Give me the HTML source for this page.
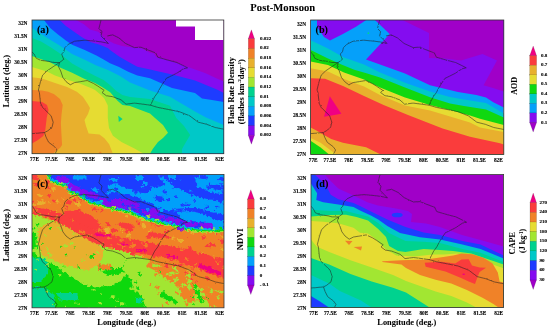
<!DOCTYPE html>
<html><head><meta charset="utf-8"><title>Post-Monsoon</title>
<style>html,body{margin:0;padding:0;background:#fff;width:550px;height:330px;overflow:hidden}svg{display:block}</style>
</head><body>
<svg width="550" height="330" viewBox="0 0 550 330">
<rect width="550" height="330" fill="#fff"/>
<filter id="jag" x="-2%" y="-2%" width="104%" height="104%"><feTurbulence type="fractalNoise" baseFrequency="0.6" numOctaves="1" seed="9" result="n"/><feDisplacementMap in="SourceGraphic" in2="n" scale="2.2" xChannelSelector="R" yChannelSelector="G"/></filter>
<clipPath id="clipA"><rect x="32.0" y="20.0" width="191.8" height="133.7"/></clipPath>
<g clip-path="url(#clipA)" >
<polygon points="32.0,20.0 223.8,20.0 223.8,153.7 32.0,153.7" fill="#a000c8"/>
<polygon points="76.0,20.0 84.0,24.3 90.0,29.5 98.2,31.8 105.3,38.9 114.0,43.6 122.0,46.0 132.5,47.6 142.0,48.5 150.0,52.7 154.0,53.5 156.0,57.0 173.0,61.4 183.7,65.6 205.0,73.0 218.0,78.9 223.8,81.6 223.8,153.7 32.0,153.7 32.0,20.0" fill="#840cf0"/>
<polygon points="59.6,20.0 65.9,25.9 73.7,31.4 81.6,36.9 90.0,42.0 99.0,44.5 108.2,48.2 110.0,50.0 119.1,56.4 128.2,61.8 137.3,66.8 150.0,69.5 172.0,74.5 195.0,80.5 218.0,90.0 223.8,93.0 223.8,153.7 32.0,153.7 32.0,20.0" fill="#1e3cff"/>
<polygon points="44.0,20.0 50.2,28.0 58.0,34.5 62.0,37.5 65.9,40.5 72.1,44.8 84.2,49.7 96.4,55.5 103.6,59.5 110.0,63.2 119.1,67.0 128.2,71.8 137.3,75.5 150.0,78.2 172.0,88.0 195.0,93.1 202.0,98.5 212.0,100.0 223.8,102.0 223.8,153.7 32.0,153.7 32.0,20.0" fill="#05a0fa"/>
<polygon points="32.0,28.0 41.1,34.0 50.2,39.8 59.3,45.3 72.1,54.0 84.2,59.4 96.4,65.5 108.5,70.3 120.0,76.0 130.0,82.5 150.0,90.4 170.0,96.7 195.0,111.4 206.0,117.5 218.0,122.5 223.8,125.0 223.8,153.7 32.0,153.7" fill="#00c8c8"/>
<polygon points="32.0,38.0 41.1,41.6 50.2,47.1 59.3,53.0 72.1,63.5 84.2,70.3 96.4,76.4 103.6,80.0 110.0,85.0 116.3,91.0 122.4,95.0 130.0,97.0 150.0,99.0 170.0,105.8 176.3,118.0 184.0,126.0 190.2,135.0 186.0,142.0 182.0,149.0 182.0,153.7 32.0,153.7" fill="#00d28f"/>
<polygon points="32.0,56.0 50.0,62.3 60.0,67.5 72.1,72.7 84.2,78.8 95.0,83.0 102.0,87.0 110.2,92.3 117.5,100.8 122.4,105.0 130.0,106.0 150.0,113.4 155.0,118.0 163.0,125.0 168.0,132.7 163.0,138.0 158.0,142.0 152.7,149.0 150.0,153.7 32.0,153.7" fill="#a2e632"/>
<polygon points="32.0,67.0 47.0,71.5 55.0,75.5 67.1,79.7 79.2,83.3 91.4,88.2 95.0,90.0 101.0,95.0 104.2,98.3 107.8,105.6 107.8,118.0 109.0,128.0 112.9,135.8 121.4,141.9 133.5,148.0 142.0,152.8 144.0,153.7 32.0,153.7" fill="#e6dc32"/>
<polygon points="32.0,77.3 42.0,78.5 55.0,83.0 67.1,87.0 76.8,91.8 82.9,96.7 87.7,103.9 90.0,108.0 88.0,114.0 84.5,120.0 86.0,126.1 88.6,133.4 99.5,134.6 104.4,138.2 109.2,144.3 112.9,153.7 32.0,153.7" fill="#e8b02d"/>
<polygon points="32.0,90.0 42.1,90.6 48.2,91.8 54.2,94.2 60.0,99.0 62.7,105.0 61.5,114.7 60.9,123.2 61.5,135.3 62.1,145.0 60.0,148.0 56.0,151.0 52.7,153.7 32.0,153.7" fill="#f08228"/>
<polygon points="32.0,100.9 42.1,102.1 47.0,105.0 48.5,110.0 46.7,118.0 45.3,130.0 43.3,136.0 38.0,140.0 32.0,143.5" fill="#fa3c3c"/>
<polygon points="118.3,115.8 122.6,119.0 118.8,121.9" fill="#00d28f"/>
<polygon points="98.0,153.7 100.2,151.5 102.5,153.7" fill="#f08228"/>
<polygon points="176.0,20.0 223.8,20.0 223.8,40.0 195.0,40.0 195.0,26.5 176.0,26.5" fill="#ffffff"/>
</g>
<g clip-path="url(#clipA)"><g fill="none" stroke="#222" stroke-width="0.6" stroke-linejoin="round" opacity="0.9" filter="url(#jag)"><path d="M101.0 20.0 L100.0 24.2 L98.9 28.5 L102.0 31.7 L101.0 35.9 L105.2 40.2 L108.4 43.4"/><path d="M107.4 35.9 L112.7 34.9 L119.0 38.0 L125.4 43.4 L134.5 47.6 L140.9 47.2 L147.2 49.7 L155.7 52.9 L157.8 57.2 L168.5 60.3 L177.0 62.5 L183.3 65.6 L187.6 67.8 L183.3 68.8 L177.0 73.1 L170.6 76.3 L166.3 78.4 L163.2 83.0 L160.0 88.2 L157.8 92.5 L154.7 96.7 L152.5 101.0 L150.4 105.2 L157.8 107.4 L168.5 109.5 L179.1 111.6 L189.7 115.8 L198.2 122.2 L206.7 124.3 L215.2 127.5 L226.0 129.6"/><path d="M150.4 105.2 L143.0 104.2 L134.5 103.1 L126.0 104.2 L121.2 99.9 L112.7 96.7 L106.3 95.7 L102.0 92.5 L104.2 90.4 L97.8 86.1 L93.6 83.5 L87.2 80.5 L80.8 81.6 L74.5 82.6 L70.2 84.8 L66.0 81.6 L62.8 77.3 L60.7 71.0 L58.5 66.7 L59.6 62.5 L63.8 59.3 L62.8 57.2 L61.7 54.0 L63.8 51.8 L64.9 47.6 L68.1 44.4 L74.5 41.2 L85.0 40.2 L95.7 41.2 L102.0 42.0 L108.4 43.4"/><path d="M59.6 62.5 L53.2 62.5 L49.0 61.4 L40.5 60.3 L36.2 58.2 L34.1 54.0 L32.0 52.0"/><path d="M59.6 62.5 L53.2 66.7 L46.9 71.0 L42.6 75.2 L40.5 81.6 L38.4 90.0 L39.4 92.5 L40.5 103.1 L42.6 107.4 L44.7 109.5 L51.1 115.8 L53.2 122.2 L52.0 127.4 L47.5 131.0 L44.5 132.5 L36.2 133.3 L32.0 133.6"/><path d="M44.5 132.5 L46.0 137.0 L48.7 142.3 L54.5 146.6 L57.0 150.0 L55.0 154.0"/></g></g>
<rect x="32.0" y="20.0" width="191.8" height="133.7" fill="none" stroke="#333" stroke-width="0.8"/>
<clipPath id="clipB"><rect x="310.6" y="20.0" width="193.2" height="134.5"/></clipPath>
<g clip-path="url(#clipB)" >
<polygon points="310.6,20.0 503.8,20.0 503.8,154.5 310.6,154.5" fill="#05a0fa"/>
<polygon points="374.9,20.0 389.7,33.9 366.0,59.5 380.0,64.5 405.0,73.5 430.0,85.2 458.0,91.9 476.4,95.0 486.0,97.4 493.3,102.2 503.8,107.5 503.8,20.0" fill="#840cf0"/>
<polygon points="402.5,20.0 429.0,33.0 429.0,58.0 445.0,58.5 461.0,60.5 482.5,54.0 497.0,60.5 483.6,85.3 493.0,88.0 503.8,91.5 503.8,20.0" fill="#a000c8"/>
<polygon points="317.0,20.0 366.2,20.0 356.0,26.7 342.9,34.0 330.0,40.5 324.0,37.0 317.0,27.0" fill="#840cf0"/>
<circle cx="368.4" cy="33.2" r="0.9" fill="#00d28f"/>
<polygon points="310.6,40.3 328.0,48.6 344.0,57.5 364.0,64.4 380.0,72.5 405.0,82.7 430.0,91.5 450.0,97.0 464.0,99.5 486.0,103.0 503.8,113.5 503.8,154.5 310.6,154.5" fill="#00c8c8"/>
<polygon points="310.6,50.1 328.0,58.5 342.0,64.8 354.2,69.7 366.4,73.3 380.0,77.5 405.0,87.5 430.0,97.3 450.0,103.5 464.0,106.0 486.0,109.5 503.8,117.5 503.8,154.5 310.6,154.5" fill="#10d810"/>
<polygon points="310.6,61.5 328.0,65.0 344.0,72.5 364.0,79.5 380.0,87.5 405.0,97.5 430.0,105.0 450.0,110.0 470.0,115.5 480.0,118.7 503.8,125.0 503.8,154.5 310.6,154.5" fill="#e6dc32"/>
<polygon points="310.6,68.3 328.0,71.5 344.0,79.0 364.0,86.4 380.0,95.1 405.0,105.5 430.0,110.5 450.0,116.5 470.0,122.5 480.0,127.5 503.8,132.0 503.8,154.5 310.6,154.5" fill="#e8b02d"/>
<polygon points="310.6,78.2 325.0,78.8 343.0,86.0 364.0,96.0 383.6,105.0 408.0,115.0 442.6,128.4 470.0,136.8 500.0,143.2 503.8,144.5 503.8,154.5 380.7,154.5 366.1,147.2 342.9,142.8 331.2,139.1 322.7,134.3 316.4,130.6 310.6,127.4" fill="#fa3c3c"/>
<polygon points="310.6,138.0 320.6,142.8 331.2,150.8 336.5,154.5 310.6,154.5" fill="#e6dc32"/>
<polygon points="310.6,140.7 320.6,147.6 329.1,154.5 310.6,154.5" fill="#10d810"/>
<polygon points="329.8,96.3 341.4,113.8 324.0,116.7" fill="#f00082"/>
</g>
<g clip-path="url(#clipB)"><g fill="none" stroke="#222" stroke-width="0.6" stroke-linejoin="round" opacity="0.9" filter="url(#jag)"><path d="M379.6 20.0 L378.6 24.2 L377.5 28.5 L380.6 31.7 L379.6 35.9 L383.8 40.2 L387.0 43.4"/><path d="M386.0 35.9 L391.3 34.9 L397.6 38.0 L404.0 43.4 L413.1 47.6 L419.5 47.2 L425.8 49.7 L434.3 52.9 L436.4 57.2 L447.1 60.3 L455.6 62.5 L461.9 65.6 L466.2 67.8 L461.9 68.8 L455.6 73.1 L449.2 76.3 L444.9 78.4 L441.8 83.0 L438.6 88.2 L436.4 92.5 L433.3 96.7 L431.1 101.0 L429.0 105.2 L436.4 107.4 L447.1 109.5 L457.7 111.6 L468.3 115.8 L476.8 122.2 L485.3 124.3 L493.8 127.5 L504.6 129.6"/><path d="M429.0 105.2 L421.6 104.2 L413.1 103.1 L404.6 104.2 L399.8 99.9 L391.3 96.7 L384.9 95.7 L380.6 92.5 L382.8 90.4 L376.4 86.1 L372.2 83.5 L365.8 80.5 L359.4 81.6 L353.1 82.6 L348.8 84.8 L344.6 81.6 L341.4 77.3 L339.3 71.0 L337.1 66.7 L338.2 62.5 L342.4 59.3 L341.4 57.2 L340.3 54.0 L342.4 51.8 L343.5 47.6 L346.7 44.4 L353.1 41.2 L363.6 40.2 L374.3 41.2 L380.6 42.0 L387.0 43.4"/><path d="M338.2 62.5 L331.8 62.5 L327.6 61.4 L319.1 60.3 L314.8 58.2 L312.7 54.0 L310.6 52.0"/><path d="M338.2 62.5 L331.8 66.7 L325.5 71.0 L321.2 75.2 L319.1 81.6 L317.0 90.0 L318.0 92.5 L319.1 103.1 L321.2 107.4 L323.3 109.5 L329.7 115.8 L331.8 122.2 L330.6 127.4 L326.1 131.0 L323.1 132.5 L314.8 133.3 L310.6 133.6"/><path d="M323.1 132.5 L324.6 137.0 L327.3 142.3 L333.1 146.6 L335.6 150.0 L333.6 154.0"/></g></g>
<rect x="310.6" y="20.0" width="193.2" height="134.5" fill="none" stroke="#333" stroke-width="0.8"/>
<clipPath id="clipD"><rect x="311.0" y="174.4" width="192.6" height="133.1"/></clipPath>
<g clip-path="url(#clipD)" >
<polygon points="311.0,174.4 503.6,174.4 503.6,307.5 311.0,307.5" fill="#a000c8"/>
<polygon points="324.7,174.4 330.7,181.0 338.3,188.5 353.5,195.5 368.0,202.5 378.0,205.5 396.0,208.5 408.0,211.0 412.0,214.0 411.0,222.0 426.0,223.5 440.0,227.0 462.0,235.0 480.5,240.0 503.6,246.5 503.6,307.5 311.0,307.5 311.0,174.4" fill="#840cf0"/>
<polygon points="314.8,174.4 321.6,181.0 327.7,188.7 330.7,194.7 338.3,199.3 353.5,203.0 360.0,206.0 374.5,213.3 387.3,219.5 405.5,227.0 423.6,232.5 440.0,235.0 462.4,240.9 480.5,244.5 503.6,255.5 503.6,307.5 311.0,307.5 311.0,174.4" fill="#1e3cff"/>
<ellipse cx="397.2" cy="215" rx="5.5" ry="2.3" fill="#1e3cff"/>
<polygon points="311.0,183.4 317.1,193.2 316.3,200.0 323.2,202.3 338.3,204.6 353.5,207.0 360.0,210.5 370.9,215.6 378.2,219.5 387.3,226.0 400.0,233.0 420.0,237.3 440.0,239.5 462.4,244.5 480.5,249.0 503.6,258.5 503.6,307.5 311.0,307.5" fill="#00c8c8"/>
<polygon points="311.0,209.7 330.0,211.0 346.0,211.0 353.5,213.0 368.0,216.5 378.2,223.0 389.0,233.0 405.5,241.0 423.6,241.8 440.0,243.0 462.4,249.0 480.5,252.7 503.6,262.0 503.6,307.5 311.0,307.5" fill="#00d28f"/>
<polygon points="311.0,216.5 330.7,215.0 346.0,214.8 356.5,217.1 368.0,220.5 378.2,229.0 386.0,237.0 389.1,246.0 398.0,251.0 405.5,252.0 423.6,249.0 440.0,250.0 453.0,251.0 471.5,253.6 503.6,264.5 503.6,307.5 311.0,307.5" fill="#a2e632"/>
<polygon points="311.0,220.9 323.2,221.7 338.3,223.2 353.5,227.7 360.0,232.7 368.0,233.5 374.5,238.2 385.5,249.0 396.4,255.5 414.5,256.4 432.7,254.5 444.2,254.5 456.9,253.6 471.5,257.3 503.6,268.2 503.6,307.5 311.0,307.5" fill="#e6dc32"/>
<polygon points="382.3,261.2 401.4,260.2 425.7,259.5 440.0,257.5 453.2,255.5 461.5,253.5 472.4,254.2 483.3,257.8 492.4,263.3 497.8,272.4 499.6,281.5 503.6,282.4 503.6,307.5 498.5,307.5 493.4,303.9 482.5,297.7 466.9,289.9 451.3,283.6 435.6,279.7 420.0,275.0 406.0,268.0 401.4,264.6 382.3,262.0" fill="#f08228"/>
<polygon points="424.7,262.7 441.4,261.7 455.2,263.5 461.5,259.6 468.7,259.3 472.0,265.5 479.6,267.5 486.0,267.8 479.6,272.0 477.5,277.0 475.0,284.0 468.7,281.5 461.1,278.0 445.4,271.6 425.7,266.7" fill="#fa3c3c"/>
<ellipse cx="463.7" cy="274.3" rx="1.4" ry="0.7" fill="#f00082"/>
<polygon points="345.0,240.8 352.5,241.0 349.0,245.0" fill="#f08228"/>
<polygon points="353.6,247.0 362.0,246.4 361.0,250.6" fill="#f08228"/>
<polygon points="311.0,239.5 316.5,246.4 329.2,252.0 350.5,260.2 371.7,267.6 393.0,275.0 406.0,281.0 420.0,286.0 435.6,291.4 451.3,296.1 466.9,302.4 476.3,307.5 311.0,307.5" fill="#a2e632"/>
<polygon points="311.0,258.0 329.2,264.4 350.5,274.0 371.7,281.4 393.0,287.8 406.0,292.5 417.8,300.1 429.6,307.5 311.0,307.5" fill="#00d28f"/>
<polygon points="311.0,275.0 329.2,283.5 339.8,291.0 361.0,300.5 371.7,307.5 311.0,307.5" fill="#00c8c8"/>
<polygon points="311.0,296.0 320.0,301.5 329.0,307.5 311.0,307.5" fill="#1e3cff"/>
</g>
<g clip-path="url(#clipD)"><g fill="none" stroke="#222" stroke-width="0.6" stroke-linejoin="round" opacity="0.9" filter="url(#jag)"><path d="M380.0 174.4 L379.0 178.6 L377.9 182.9 L381.0 186.1 L380.0 190.3 L384.2 194.6 L387.4 197.8"/><path d="M386.4 190.3 L391.7 189.3 L398.0 192.4 L404.4 197.8 L413.5 202.0 L419.9 201.6 L426.2 204.1 L434.7 207.3 L436.8 211.6 L447.5 214.7 L456.0 216.9 L462.3 220.0 L466.6 222.2 L462.3 223.2 L456.0 227.5 L449.6 230.7 L445.3 232.8 L442.2 237.4 L439.0 242.6 L436.8 246.9 L433.7 251.1 L431.5 255.4 L429.4 259.6 L436.8 261.8 L447.5 263.9 L458.1 266.0 L468.7 270.2 L477.2 276.6 L485.7 278.7 L494.2 281.9 L505.0 284.0"/><path d="M429.4 259.6 L422.0 258.6 L413.5 257.5 L405.0 258.6 L400.2 254.3 L391.7 251.1 L385.3 250.1 L381.0 246.9 L383.2 244.8 L376.8 240.5 L372.6 237.9 L366.2 234.9 L359.8 236.0 L353.5 237.0 L349.2 239.2 L345.0 236.0 L341.8 231.7 L339.7 225.4 L337.5 221.1 L338.6 216.9 L342.8 213.7 L341.8 211.6 L340.7 208.4 L342.8 206.2 L343.9 202.0 L347.1 198.8 L353.5 195.6 L364.0 194.6 L374.7 195.6 L381.0 196.4 L387.4 197.8"/><path d="M338.6 216.9 L332.2 216.9 L328.0 215.8 L319.5 214.7 L315.2 212.6 L313.1 208.4 L311.0 206.4"/><path d="M338.6 216.9 L332.2 221.1 L325.9 225.4 L321.6 229.6 L319.5 236.0 L317.4 244.4 L318.4 246.9 L319.5 257.5 L321.6 261.8 L323.7 263.9 L330.1 270.2 L332.2 276.6 L331.0 281.8 L326.5 285.4 L323.5 286.9 L315.2 287.7 L311.0 288.0"/><path d="M323.5 286.9 L325.0 291.4 L327.7 296.7 L333.5 301.0 L336.0 304.4 L334.0 308.4"/></g></g>
<rect x="311.0" y="174.4" width="192.6" height="133.1" fill="none" stroke="#333" stroke-width="0.8"/>
<clipPath id="clipC"><rect x="32.0" y="174.4" width="192.0" height="133.4"/></clipPath>
<filter id="rough" x="-5%%" y="-5%%" width="110%%" height="110%%"><feTurbulence type="fractalNoise" baseFrequency="0.35" numOctaves="2" seed="4" result="n"/><feDisplacementMap in="SourceGraphic" in2="n" scale="5" xChannelSelector="R" yChannelSelector="G"/></filter>
<g clip-path="url(#clipC)"><g filter="url(#rough)">
<polygon points="28.0,170.4 228.0,170.4 228.0,311.8 28.0,311.8" fill="#a2e632"/>
<polygon points="28.0,170.4 46.0,170.4 48.0,174.4 52.4,179.4 59.2,181.5 67.4,183.5 68.8,189.0 77.0,191.7 83.8,195.8 89.2,199.9 100.0,202.0 113.7,206.3 129.7,209.5 145.8,216.5 157.0,219.5 168.6,222.0 187.0,226.5 203.0,228.0 211.8,228.5 218.6,228.0 228.0,227.5 228.0,292.0 215.0,290.0 200.0,285.0 190.0,280.0 175.0,272.0 162.0,264.0 150.0,260.0 140.0,256.0 130.0,253.0 120.0,250.0 110.0,247.0 104.0,246.0 97.0,243.0 85.0,237.0 75.0,232.0 66.0,227.0 59.0,223.0 53.8,221.4 45.0,218.0 38.0,214.0 28.0,210.0" fill="#f08228"/>
<polygon points="150.0,261.0 172.0,266.0 186.0,274.0 200.0,284.0 215.0,291.0 228.0,294.0 228.0,311.8 214.0,311.8 206.0,300.0 196.0,295.0 186.0,290.0 176.0,286.0 166.0,279.0 156.0,271.0 146.0,266.0" fill="#f08228"/>
<polygon points="97.0,264.0 112.0,265.0 113.0,270.0 99.0,270.0" fill="#f08228"/>
<polygon points="178.0,286.0 190.0,290.0 197.0,300.0 190.0,303.0 182.0,296.0" fill="#f08228"/>
<polygon points="38.0,229.0 45.0,224.0 53.8,221.4 59.0,223.5 66.0,227.5 75.0,232.5 85.0,237.5 97.0,243.5 103.0,250.0 103.0,258.0 97.0,265.0 88.0,270.0 75.0,268.0 62.0,264.0 52.0,259.0 43.0,256.0 39.0,248.0 38.0,238.0" fill="#e8b02d"/>
<polygon points="28.0,248.0 40.0,257.0 55.0,265.6 65.3,273.0 77.5,281.0 88.0,286.0 97.0,286.5 112.0,286.0 121.0,280.0 126.0,275.0 131.0,278.0 133.0,288.0 142.5,297.4 147.0,311.8 28.0,311.8" fill="#10d810"/>
<polygon points="100.0,272.0 112.0,268.0 122.0,268.0 125.0,272.0 112.0,276.0" fill="#10d810"/>
<polygon points="160.0,292.0 170.0,295.0 178.0,302.0 176.0,304.0 165.0,299.0 160.0,297.0" fill="#10d810"/>
<polygon points="193.0,282.0 196.0,283.0 204.0,302.0 201.0,303.5 194.0,290.0" fill="#10d810"/>
<polygon points="28.0,232.0 36.0,233.0 37.0,248.0 28.0,249.0" fill="#10d810"/>
<polygon points="28.0,257.0 45.0,258.0 49.0,265.0 47.0,275.0 40.0,282.0 28.0,282.0" fill="#00d28f"/>
<polygon points="28.0,286.8 45.0,288.0 54.7,295.0 55.0,311.8 28.0,311.8" fill="#00d28f"/>
<polygon points="55.0,293.0 77.5,293.0 77.5,300.0 60.0,300.4" fill="#00d28f"/>
<polygon points="135.0,297.4 142.5,298.0 142.0,303.5 136.0,303.0" fill="#00d28f"/>
<ellipse cx="135.2" cy="214.9" rx="0.9" ry="0.7" transform="rotate(22 135.2 214.9)" fill="#e8b02d"/>
<ellipse cx="42.0" cy="181.4" rx="1.6" ry="1.0" transform="rotate(38 42.0 181.4)" fill="#e8b02d"/>
<ellipse cx="143.4" cy="218.6" rx="3.6" ry="1.6" transform="rotate(0 143.4 218.6)" fill="#e8b02d"/>
<ellipse cx="56.9" cy="184.7" rx="1.4" ry="1.0" transform="rotate(37 56.9 184.7)" fill="#e8b02d"/>
<ellipse cx="39.9" cy="195.4" rx="2.2" ry="1.5" transform="rotate(18 39.9 195.4)" fill="#e8b02d"/>
<ellipse cx="186.9" cy="255.4" rx="1.6" ry="1.0" transform="rotate(25 186.9 255.4)" fill="#e8b02d"/>
<ellipse cx="180.9" cy="240.1" rx="3.1" ry="1.7" transform="rotate(12 180.9 240.1)" fill="#e8b02d"/>
<ellipse cx="144.0" cy="225.9" rx="2.8" ry="1.7" transform="rotate(44 144.0 225.9)" fill="#e8b02d"/>
<ellipse cx="61.6" cy="184.6" rx="1.0" ry="0.6" transform="rotate(35 61.6 184.6)" fill="#e8b02d"/>
<ellipse cx="191.9" cy="275.5" rx="1.5" ry="1.1" transform="rotate(17 191.9 275.5)" fill="#e8b02d"/>
<ellipse cx="63.2" cy="198.6" rx="1.6" ry="0.8" transform="rotate(21 63.2 198.6)" fill="#e8b02d"/>
<ellipse cx="101.9" cy="239.3" rx="3.0" ry="1.8" transform="rotate(31 101.9 239.3)" fill="#e8b02d"/>
<ellipse cx="207.9" cy="265.2" rx="2.7" ry="1.6" transform="rotate(36 207.9 265.2)" fill="#e8b02d"/>
<ellipse cx="40.4" cy="178.6" rx="1.4" ry="0.7" transform="rotate(5 40.4 178.6)" fill="#e8b02d"/>
<ellipse cx="28.0" cy="188.8" rx="1.0" ry="0.8" transform="rotate(15 28.0 188.8)" fill="#e8b02d"/>
<ellipse cx="78.5" cy="212.6" rx="2.1" ry="1.2" transform="rotate(3 78.5 212.6)" fill="#e8b02d"/>
<ellipse cx="121.2" cy="229.2" rx="1.1" ry="0.6" transform="rotate(2 121.2 229.2)" fill="#e8b02d"/>
<ellipse cx="200.7" cy="255.1" rx="1.3" ry="1.0" transform="rotate(15 200.7 255.1)" fill="#e8b02d"/>
<ellipse cx="198.5" cy="268.4" rx="2.4" ry="1.6" transform="rotate(33 198.5 268.4)" fill="#e8b02d"/>
<ellipse cx="33.6" cy="204.4" rx="1.9" ry="0.9" transform="rotate(31 33.6 204.4)" fill="#e8b02d"/>
<ellipse cx="72.1" cy="198.0" rx="1.5" ry="1.0" transform="rotate(7 72.1 198.0)" fill="#e8b02d"/>
<ellipse cx="196.1" cy="228.7" rx="1.9" ry="1.5" transform="rotate(36 196.1 228.7)" fill="#e8b02d"/>
<ellipse cx="210.0" cy="265.5" rx="2.2" ry="1.7" transform="rotate(20 210.0 265.5)" fill="#e8b02d"/>
<ellipse cx="53.4" cy="188.8" rx="2.4" ry="1.9" transform="rotate(37 53.4 188.8)" fill="#e8b02d"/>
<ellipse cx="224.1" cy="250.3" rx="1.5" ry="0.8" transform="rotate(24 224.1 250.3)" fill="#e8b02d"/>
<ellipse cx="222.2" cy="249.4" rx="2.1" ry="1.4" transform="rotate(43 222.2 249.4)" fill="#e8b02d"/>
<ellipse cx="78.4" cy="206.0" rx="1.4" ry="0.9" transform="rotate(26 78.4 206.0)" fill="#e8b02d"/>
<ellipse cx="98.8" cy="226.1" rx="2.2" ry="1.5" transform="rotate(42 98.8 226.1)" fill="#e8b02d"/>
<ellipse cx="128.3" cy="235.1" rx="2.1" ry="1.1" transform="rotate(-2 128.3 235.1)" fill="#e8b02d"/>
<ellipse cx="173.0" cy="238.1" rx="1.8" ry="1.1" transform="rotate(22 173.0 238.1)" fill="#e8b02d"/>
<ellipse cx="77.7" cy="204.1" rx="2.7" ry="1.7" transform="rotate(22 77.7 204.1)" fill="#e8b02d"/>
<ellipse cx="150.5" cy="231.9" rx="2.1" ry="1.2" transform="rotate(31 150.5 231.9)" fill="#e8b02d"/>
<ellipse cx="42.5" cy="199.7" rx="1.3" ry="0.8" transform="rotate(30 42.5 199.7)" fill="#e8b02d"/>
<ellipse cx="107.7" cy="229.7" rx="2.6" ry="1.7" transform="rotate(38 107.7 229.7)" fill="#e8b02d"/>
<ellipse cx="131.1" cy="211.6" rx="1.6" ry="0.7" transform="rotate(12 131.1 211.6)" fill="#e8b02d"/>
<ellipse cx="138.8" cy="224.0" rx="1.1" ry="0.6" transform="rotate(13 138.8 224.0)" fill="#e8b02d"/>
<ellipse cx="49.0" cy="202.7" rx="1.0" ry="0.6" transform="rotate(35 49.0 202.7)" fill="#e8b02d"/>
<ellipse cx="142.1" cy="255.6" rx="1.3" ry="0.7" transform="rotate(0 142.1 255.6)" fill="#e8b02d"/>
<ellipse cx="118.8" cy="211.6" rx="2.0" ry="1.1" transform="rotate(43 118.8 211.6)" fill="#e8b02d"/>
<ellipse cx="49.9" cy="190.0" rx="1.0" ry="0.6" transform="rotate(7 49.9 190.0)" fill="#e8b02d"/>
<ellipse cx="174.6" cy="237.4" rx="1.7" ry="0.7" transform="rotate(20 174.6 237.4)" fill="#e8b02d"/>
<ellipse cx="106.6" cy="232.0" rx="2.3" ry="1.6" transform="rotate(46 106.6 232.0)" fill="#e8b02d"/>
<ellipse cx="169.3" cy="247.7" rx="1.5" ry="0.9" transform="rotate(14 169.3 247.7)" fill="#e8b02d"/>
<ellipse cx="202.1" cy="251.9" rx="1.5" ry="0.9" transform="rotate(9 202.1 251.9)" fill="#e8b02d"/>
<ellipse cx="222.5" cy="236.9" rx="1.4" ry="0.8" transform="rotate(45 222.5 236.9)" fill="#e8b02d"/>
<ellipse cx="122.9" cy="231.5" rx="1.1" ry="0.8" transform="rotate(22 122.9 231.5)" fill="#e8b02d"/>
<ellipse cx="36.3" cy="173.1" rx="1.7" ry="1.0" transform="rotate(8 36.3 173.1)" fill="#e8b02d"/>
<ellipse cx="178.1" cy="250.4" rx="2.4" ry="1.4" transform="rotate(40 178.1 250.4)" fill="#e8b02d"/>
<ellipse cx="172.8" cy="248.6" rx="1.3" ry="0.7" transform="rotate(38 172.8 248.6)" fill="#e8b02d"/>
<ellipse cx="174.8" cy="269.2" rx="1.3" ry="0.9" transform="rotate(23 174.8 269.2)" fill="#e8b02d"/>
<ellipse cx="188.9" cy="270.9" rx="2.4" ry="1.4" transform="rotate(41 188.9 270.9)" fill="#e8b02d"/>
<ellipse cx="54.6" cy="214.3" rx="1.3" ry="0.8" transform="rotate(38 54.6 214.3)" fill="#e8b02d"/>
<ellipse cx="153.2" cy="253.2" rx="2.3" ry="1.3" transform="rotate(-2 153.2 253.2)" fill="#e8b02d"/>
<ellipse cx="128.6" cy="235.5" rx="2.7" ry="1.3" transform="rotate(0 128.6 235.5)" fill="#e8b02d"/>
<ellipse cx="42.9" cy="202.7" rx="2.8" ry="1.8" transform="rotate(7 42.9 202.7)" fill="#e8b02d"/>
<ellipse cx="126.8" cy="216.9" rx="2.3" ry="1.2" transform="rotate(31 126.8 216.9)" fill="#e8b02d"/>
<ellipse cx="57.5" cy="201.3" rx="2.7" ry="1.2" transform="rotate(12 57.5 201.3)" fill="#e8b02d"/>
<ellipse cx="40.1" cy="203.1" rx="2.6" ry="1.3" transform="rotate(31 40.1 203.1)" fill="#e8b02d"/>
<ellipse cx="131.3" cy="226.9" rx="2.4" ry="1.0" transform="rotate(2 131.3 226.9)" fill="#e8b02d"/>
<ellipse cx="223.6" cy="284.2" rx="1.2" ry="0.7" transform="rotate(19 223.6 284.2)" fill="#e8b02d"/>
<ellipse cx="192.0" cy="232.3" rx="2.5" ry="1.9" transform="rotate(32 192.0 232.3)" fill="#e8b02d"/>
<ellipse cx="56.1" cy="212.2" rx="1.3" ry="1.1" transform="rotate(39 56.1 212.2)" fill="#e8b02d"/>
<ellipse cx="213.3" cy="257.1" rx="2.7" ry="1.6" transform="rotate(11 213.3 257.1)" fill="#e8b02d"/>
<ellipse cx="227.8" cy="242.0" rx="1.6" ry="0.8" transform="rotate(18 227.8 242.0)" fill="#e8b02d"/>
<ellipse cx="77.9" cy="202.7" rx="2.0" ry="1.4" transform="rotate(6 77.9 202.7)" fill="#e8b02d"/>
<ellipse cx="204.9" cy="269.1" rx="2.8" ry="1.4" transform="rotate(42 204.9 269.1)" fill="#e8b02d"/>
<ellipse cx="174.5" cy="225.2" rx="2.3" ry="1.2" transform="rotate(29 174.5 225.2)" fill="#e8b02d"/>
<ellipse cx="122.4" cy="212.2" rx="2.0" ry="0.9" transform="rotate(33 122.4 212.2)" fill="#e8b02d"/>
<ellipse cx="139.5" cy="218.4" rx="1.2" ry="0.9" transform="rotate(5 139.5 218.4)" fill="#e8b02d"/>
<ellipse cx="75.8" cy="201.8" rx="2.5" ry="1.2" transform="rotate(41 75.8 201.8)" fill="#e8b02d"/>
<ellipse cx="110.8" cy="234.1" rx="1.5" ry="1.0" transform="rotate(13 110.8 234.1)" fill="#fa3c3c"/>
<ellipse cx="128.7" cy="247.0" rx="2.5" ry="1.5" transform="rotate(7 128.7 247.0)" fill="#fa3c3c"/>
<ellipse cx="108.0" cy="224.6" rx="3.5" ry="1.4" transform="rotate(39 108.0 224.6)" fill="#fa3c3c"/>
<ellipse cx="193.1" cy="274.4" rx="2.5" ry="1.5" transform="rotate(9 193.1 274.4)" fill="#fa3c3c"/>
<ellipse cx="132.5" cy="253.3" rx="3.2" ry="1.9" transform="rotate(33 132.5 253.3)" fill="#fa3c3c"/>
<ellipse cx="119.5" cy="237.5" rx="1.0" ry="0.8" transform="rotate(36 119.5 237.5)" fill="#fa3c3c"/>
<ellipse cx="53.6" cy="201.0" rx="1.9" ry="1.1" transform="rotate(31 53.6 201.0)" fill="#fa3c3c"/>
<ellipse cx="132.9" cy="241.3" rx="1.9" ry="0.9" transform="rotate(8 132.9 241.3)" fill="#fa3c3c"/>
<ellipse cx="88.3" cy="226.4" rx="3.6" ry="1.7" transform="rotate(29 88.3 226.4)" fill="#fa3c3c"/>
<ellipse cx="75.0" cy="200.4" rx="2.8" ry="1.4" transform="rotate(32 75.0 200.4)" fill="#fa3c3c"/>
<ellipse cx="95.6" cy="221.5" rx="2.8" ry="1.6" transform="rotate(6 95.6 221.5)" fill="#fa3c3c"/>
<ellipse cx="72.7" cy="221.1" rx="2.0" ry="1.3" transform="rotate(44 72.7 221.1)" fill="#fa3c3c"/>
<ellipse cx="207.6" cy="277.8" rx="3.1" ry="1.4" transform="rotate(46 207.6 277.8)" fill="#fa3c3c"/>
<ellipse cx="102.8" cy="210.7" rx="1.3" ry="0.8" transform="rotate(-2 102.8 210.7)" fill="#fa3c3c"/>
<ellipse cx="66.6" cy="214.7" rx="2.8" ry="1.9" transform="rotate(-1 66.6 214.7)" fill="#fa3c3c"/>
<ellipse cx="35.0" cy="178.0" rx="3.3" ry="2.0" transform="rotate(9 35.0 178.0)" fill="#fa3c3c"/>
<ellipse cx="95.8" cy="203.5" rx="2.7" ry="1.9" transform="rotate(27 95.8 203.5)" fill="#fa3c3c"/>
<ellipse cx="91.3" cy="203.9" rx="1.2" ry="0.6" transform="rotate(34 91.3 203.9)" fill="#fa3c3c"/>
<ellipse cx="74.8" cy="228.2" rx="2.9" ry="1.6" transform="rotate(44 74.8 228.2)" fill="#fa3c3c"/>
<ellipse cx="114.0" cy="230.4" rx="3.4" ry="1.9" transform="rotate(6 114.0 230.4)" fill="#fa3c3c"/>
<ellipse cx="192.6" cy="264.4" rx="2.1" ry="1.3" transform="rotate(13 192.6 264.4)" fill="#fa3c3c"/>
<ellipse cx="170.0" cy="224.8" rx="1.6" ry="0.9" transform="rotate(17 170.0 224.8)" fill="#fa3c3c"/>
<ellipse cx="141.4" cy="215.8" rx="2.3" ry="1.3" transform="rotate(6 141.4 215.8)" fill="#fa3c3c"/>
<ellipse cx="189.7" cy="249.8" rx="3.1" ry="2.0" transform="rotate(2 189.7 249.8)" fill="#fa3c3c"/>
<ellipse cx="196.1" cy="281.6" rx="0.9" ry="0.6" transform="rotate(11 196.1 281.6)" fill="#fa3c3c"/>
<ellipse cx="222.6" cy="241.3" rx="3.5" ry="1.7" transform="rotate(15 222.6 241.3)" fill="#fa3c3c"/>
<ellipse cx="147.2" cy="245.8" rx="1.2" ry="0.8" transform="rotate(15 147.2 245.8)" fill="#fa3c3c"/>
<ellipse cx="30.3" cy="210.2" rx="2.2" ry="1.2" transform="rotate(6 30.3 210.2)" fill="#fa3c3c"/>
<ellipse cx="187.1" cy="237.0" rx="1.1" ry="0.7" transform="rotate(2 187.1 237.0)" fill="#fa3c3c"/>
<ellipse cx="90.5" cy="239.3" rx="2.1" ry="1.2" transform="rotate(17 90.5 239.3)" fill="#fa3c3c"/>
<ellipse cx="102.2" cy="231.7" rx="1.4" ry="0.9" transform="rotate(11 102.2 231.7)" fill="#fa3c3c"/>
<ellipse cx="67.5" cy="185.8" rx="3.0" ry="1.4" transform="rotate(45 67.5 185.8)" fill="#fa3c3c"/>
<ellipse cx="208.8" cy="245.8" rx="3.1" ry="1.4" transform="rotate(5 208.8 245.8)" fill="#fa3c3c"/>
<ellipse cx="71.6" cy="219.0" rx="1.7" ry="1.1" transform="rotate(16 71.6 219.0)" fill="#fa3c3c"/>
<ellipse cx="147.9" cy="237.3" rx="2.3" ry="1.4" transform="rotate(12 147.9 237.3)" fill="#fa3c3c"/>
<ellipse cx="117.4" cy="223.7" rx="1.1" ry="0.6" transform="rotate(27 117.4 223.7)" fill="#fa3c3c"/>
<ellipse cx="180.7" cy="265.2" rx="2.0" ry="1.0" transform="rotate(5 180.7 265.2)" fill="#fa3c3c"/>
<ellipse cx="174.7" cy="265.0" rx="2.1" ry="1.2" transform="rotate(0 174.7 265.0)" fill="#fa3c3c"/>
<ellipse cx="174.4" cy="269.5" rx="1.4" ry="1.0" transform="rotate(46 174.4 269.5)" fill="#fa3c3c"/>
<ellipse cx="41.1" cy="213.1" rx="3.1" ry="1.4" transform="rotate(4 41.1 213.1)" fill="#fa3c3c"/>
<ellipse cx="69.7" cy="202.4" rx="1.6" ry="1.1" transform="rotate(12 69.7 202.4)" fill="#fa3c3c"/>
<ellipse cx="202.6" cy="237.9" rx="1.8" ry="1.6" transform="rotate(41 202.6 237.9)" fill="#fa3c3c"/>
<ellipse cx="226.1" cy="240.6" rx="1.7" ry="0.9" transform="rotate(35 226.1 240.6)" fill="#fa3c3c"/>
<ellipse cx="145.2" cy="251.1" rx="1.3" ry="0.8" transform="rotate(-2 145.2 251.1)" fill="#fa3c3c"/>
<ellipse cx="151.2" cy="223.0" rx="1.7" ry="1.1" transform="rotate(41 151.2 223.0)" fill="#fa3c3c"/>
<ellipse cx="49.3" cy="213.8" rx="1.6" ry="0.8" transform="rotate(26 49.3 213.8)" fill="#fa3c3c"/>
<ellipse cx="152.8" cy="228.1" rx="1.2" ry="0.7" transform="rotate(43 152.8 228.1)" fill="#fa3c3c"/>
<ellipse cx="202.3" cy="265.5" rx="1.5" ry="1.1" transform="rotate(10 202.3 265.5)" fill="#fa3c3c"/>
<ellipse cx="157.1" cy="224.4" rx="2.6" ry="2.0" transform="rotate(33 157.1 224.4)" fill="#fa3c3c"/>
<ellipse cx="129.4" cy="248.4" rx="2.5" ry="1.5" transform="rotate(5 129.4 248.4)" fill="#fa3c3c"/>
<ellipse cx="184.6" cy="257.4" rx="1.2" ry="0.6" transform="rotate(39 184.6 257.4)" fill="#fa3c3c"/>
<ellipse cx="176.4" cy="225.4" rx="1.3" ry="0.7" transform="rotate(2 176.4 225.4)" fill="#fa3c3c"/>
<ellipse cx="138.8" cy="223.4" rx="2.4" ry="1.6" transform="rotate(23 138.8 223.4)" fill="#fa3c3c"/>
<ellipse cx="80.1" cy="199.1" rx="2.9" ry="1.4" transform="rotate(44 80.1 199.1)" fill="#fa3c3c"/>
<ellipse cx="154.1" cy="254.6" rx="2.4" ry="1.6" transform="rotate(45 154.1 254.6)" fill="#fa3c3c"/>
<ellipse cx="33.7" cy="175.5" rx="2.7" ry="1.6" transform="rotate(28 33.7 175.5)" fill="#fa3c3c"/>
<ellipse cx="191.9" cy="278.8" rx="1.4" ry="0.8" transform="rotate(40 191.9 278.8)" fill="#fa3c3c"/>
<ellipse cx="49.4" cy="195.4" rx="1.5" ry="0.8" transform="rotate(-1 49.4 195.4)" fill="#fa3c3c"/>
<ellipse cx="48.0" cy="182.3" rx="2.4" ry="1.5" transform="rotate(7 48.0 182.3)" fill="#fa3c3c"/>
<ellipse cx="32.2" cy="201.6" rx="1.5" ry="0.9" transform="rotate(32 32.2 201.6)" fill="#fa3c3c"/>
<ellipse cx="220.8" cy="231.7" rx="2.2" ry="1.6" transform="rotate(27 220.8 231.7)" fill="#fa3c3c"/>
<ellipse cx="28.3" cy="195.0" rx="2.0" ry="1.5" transform="rotate(45 28.3 195.0)" fill="#fa3c3c"/>
<ellipse cx="167.9" cy="231.0" rx="1.0" ry="0.8" transform="rotate(28 167.9 231.0)" fill="#fa3c3c"/>
<ellipse cx="167.4" cy="266.1" rx="2.2" ry="1.3" transform="rotate(14 167.4 266.1)" fill="#fa3c3c"/>
<ellipse cx="69.2" cy="202.4" rx="2.8" ry="1.9" transform="rotate(22 69.2 202.4)" fill="#fa3c3c"/>
<ellipse cx="74.7" cy="226.4" rx="2.4" ry="1.3" transform="rotate(34 74.7 226.4)" fill="#fa3c3c"/>
<ellipse cx="97.7" cy="210.1" rx="1.5" ry="0.9" transform="rotate(39 97.7 210.1)" fill="#fa3c3c"/>
<ellipse cx="61.9" cy="223.8" rx="2.2" ry="1.5" transform="rotate(25 61.9 223.8)" fill="#fa3c3c"/>
<ellipse cx="66.3" cy="207.1" rx="2.1" ry="1.2" transform="rotate(39 66.3 207.1)" fill="#fa3c3c"/>
<ellipse cx="77.5" cy="210.1" rx="2.0" ry="1.1" transform="rotate(5 77.5 210.1)" fill="#fa3c3c"/>
<ellipse cx="223.0" cy="259.0" rx="1.0" ry="0.7" transform="rotate(45 223.0 259.0)" fill="#fa3c3c"/>
<ellipse cx="224.8" cy="267.1" rx="2.2" ry="1.6" transform="rotate(18 224.8 267.1)" fill="#fa3c3c"/>
<ellipse cx="49.4" cy="195.5" rx="1.8" ry="1.2" transform="rotate(-1 49.4 195.5)" fill="#fa3c3c"/>
<ellipse cx="166.7" cy="231.3" rx="2.0" ry="1.4" transform="rotate(20 166.7 231.3)" fill="#fa3c3c"/>
<ellipse cx="182.8" cy="255.5" rx="3.0" ry="1.6" transform="rotate(30 182.8 255.5)" fill="#fa3c3c"/>
<ellipse cx="184.5" cy="257.1" rx="2.3" ry="1.3" transform="rotate(9 184.5 257.1)" fill="#fa3c3c"/>
<ellipse cx="152.3" cy="220.2" rx="2.1" ry="1.5" transform="rotate(43 152.3 220.2)" fill="#fa3c3c"/>
<ellipse cx="216.1" cy="233.5" rx="1.3" ry="0.8" transform="rotate(25 216.1 233.5)" fill="#fa3c3c"/>
<ellipse cx="130.4" cy="248.1" rx="2.6" ry="1.9" transform="rotate(23 130.4 248.1)" fill="#fa3c3c"/>
<ellipse cx="82.9" cy="219.0" rx="1.0" ry="0.7" transform="rotate(17 82.9 219.0)" fill="#fa3c3c"/>
<ellipse cx="98.4" cy="202.6" rx="1.8" ry="0.9" transform="rotate(34 98.4 202.6)" fill="#fa3c3c"/>
<ellipse cx="189.9" cy="247.5" rx="1.8" ry="1.4" transform="rotate(25 189.9 247.5)" fill="#fa3c3c"/>
<ellipse cx="191.7" cy="269.6" rx="2.1" ry="1.0" transform="rotate(11 191.7 269.6)" fill="#fa3c3c"/>
<ellipse cx="84.2" cy="200.2" rx="1.6" ry="1.0" transform="rotate(20 84.2 200.2)" fill="#fa3c3c"/>
<ellipse cx="213.7" cy="274.3" rx="1.4" ry="0.7" transform="rotate(38 213.7 274.3)" fill="#fa3c3c"/>
<ellipse cx="48.3" cy="187.8" rx="1.4" ry="0.8" transform="rotate(35 48.3 187.8)" fill="#fa3c3c"/>
<ellipse cx="208.8" cy="266.7" rx="1.5" ry="0.9" transform="rotate(41 208.8 266.7)" fill="#fa3c3c"/>
<ellipse cx="185.6" cy="272.4" rx="1.5" ry="0.9" transform="rotate(31 185.6 272.4)" fill="#fa3c3c"/>
<ellipse cx="126.3" cy="231.0" rx="1.7" ry="1.4" transform="rotate(40 126.3 231.0)" fill="#fa3c3c"/>
<ellipse cx="121.6" cy="238.8" rx="2.3" ry="1.4" transform="rotate(39 121.6 238.8)" fill="#fa3c3c"/>
<ellipse cx="155.4" cy="247.8" rx="1.2" ry="0.7" transform="rotate(27 155.4 247.8)" fill="#fa3c3c"/>
<ellipse cx="130.1" cy="229.3" rx="3.2" ry="1.8" transform="rotate(-1 130.1 229.3)" fill="#fa3c3c"/>
<ellipse cx="101.2" cy="228.1" rx="1.8" ry="1.2" transform="rotate(35 101.2 228.1)" fill="#fa3c3c"/>
<ellipse cx="112.5" cy="237.8" rx="3.2" ry="1.5" transform="rotate(11 112.5 237.8)" fill="#fa3c3c"/>
<ellipse cx="94.2" cy="209.0" rx="1.8" ry="1.1" transform="rotate(26 94.2 209.0)" fill="#fa3c3c"/>
<ellipse cx="205.1" cy="236.7" rx="0.9" ry="0.6" transform="rotate(12 205.1 236.7)" fill="#fa3c3c"/>
<ellipse cx="212.3" cy="244.4" rx="2.9" ry="1.5" transform="rotate(36 212.3 244.4)" fill="#fa3c3c"/>
<ellipse cx="151.3" cy="246.6" rx="2.7" ry="1.3" transform="rotate(26 151.3 246.6)" fill="#fa3c3c"/>
<ellipse cx="161.4" cy="226.1" rx="2.2" ry="1.2" transform="rotate(2 161.4 226.1)" fill="#fa3c3c"/>
<ellipse cx="192.5" cy="266.0" rx="2.0" ry="1.2" transform="rotate(9 192.5 266.0)" fill="#fa3c3c"/>
<ellipse cx="91.7" cy="222.8" rx="1.9" ry="1.4" transform="rotate(43 91.7 222.8)" fill="#fa3c3c"/>
<ellipse cx="35.9" cy="184.9" rx="3.3" ry="1.5" transform="rotate(25 35.9 184.9)" fill="#fa3c3c"/>
<ellipse cx="224.2" cy="228.2" rx="2.0" ry="1.0" transform="rotate(2 224.2 228.2)" fill="#fa3c3c"/>
<ellipse cx="153.7" cy="256.6" rx="1.8" ry="1.4" transform="rotate(43 153.7 256.6)" fill="#fa3c3c"/>
<ellipse cx="101.5" cy="240.3" rx="1.6" ry="1.3" transform="rotate(30 101.5 240.3)" fill="#fa3c3c"/>
<ellipse cx="153.9" cy="221.2" rx="2.2" ry="1.2" transform="rotate(36 153.9 221.2)" fill="#fa3c3c"/>
<ellipse cx="223.5" cy="271.5" rx="2.2" ry="1.5" transform="rotate(12 223.5 271.5)" fill="#fa3c3c"/>
<ellipse cx="28.3" cy="202.4" rx="2.2" ry="1.3" transform="rotate(26 28.3 202.4)" fill="#fa3c3c"/>
<ellipse cx="190.4" cy="275.9" rx="2.6" ry="1.4" transform="rotate(10 190.4 275.9)" fill="#fa3c3c"/>
<ellipse cx="149.4" cy="252.8" rx="1.8" ry="1.3" transform="rotate(7 149.4 252.8)" fill="#fa3c3c"/>
<polygon points="64.0,211.0 78.0,210.0 92.0,216.0 100.0,224.0 98.0,230.0 88.0,229.0 76.0,224.0 66.0,218.0" fill="#fa3c3c"/>
<polygon points="120.0,222.0 132.0,224.0 136.0,228.0 126.0,229.0 118.0,226.0" fill="#fa3c3c"/>
<polygon points="150.0,232.0 166.0,234.0 172.0,238.0 158.0,239.0 148.0,236.0" fill="#fa3c3c"/>
<polygon points="33.0,207.0 45.0,209.0 60.0,213.0 75.0,220.0 90.0,228.0 98.0,231.0 110.6,235.0 124.2,238.0 137.9,240.5 151.5,243.0 162.0,245.0 187.0,249.0 205.0,254.0 228.0,260.0 228.0,280.0 210.0,274.0 195.0,268.0 180.0,263.0 162.0,257.0 151.5,255.5 137.9,253.0 124.2,251.0 110.6,248.0 97.0,244.0 85.0,238.0 72.0,230.0 60.0,223.0 48.0,218.0 33.0,215.0" fill="#fa3c3c"/>
<ellipse cx="125.9" cy="250.0" rx="1.0" ry="0.8" transform="rotate(6 125.9 250.0)" fill="#f08228"/>
<ellipse cx="111.5" cy="244.8" rx="1.4" ry="0.6" transform="rotate(0 111.5 244.8)" fill="#f08228"/>
<ellipse cx="217.6" cy="263.0" rx="2.0" ry="1.1" transform="rotate(45 217.6 263.0)" fill="#f08228"/>
<ellipse cx="72.2" cy="220.2" rx="1.1" ry="0.7" transform="rotate(0 72.2 220.2)" fill="#f08228"/>
<ellipse cx="82.9" cy="232.7" rx="2.8" ry="1.2" transform="rotate(42 82.9 232.7)" fill="#f08228"/>
<ellipse cx="186.3" cy="258.8" rx="1.6" ry="1.0" transform="rotate(46 186.3 258.8)" fill="#f08228"/>
<ellipse cx="197.2" cy="252.9" rx="1.9" ry="1.0" transform="rotate(13 197.2 252.9)" fill="#f08228"/>
<ellipse cx="172.2" cy="247.4" rx="1.0" ry="0.6" transform="rotate(40 172.2 247.4)" fill="#f08228"/>
<ellipse cx="227.6" cy="274.5" rx="1.3" ry="0.5" transform="rotate(11 227.6 274.5)" fill="#f08228"/>
<ellipse cx="48.5" cy="213.4" rx="1.7" ry="1.0" transform="rotate(21 48.5 213.4)" fill="#f08228"/>
<ellipse cx="119.9" cy="244.6" rx="1.3" ry="0.7" transform="rotate(32 119.9 244.6)" fill="#f08228"/>
<ellipse cx="133.1" cy="245.7" rx="2.2" ry="0.9" transform="rotate(-1 133.1 245.7)" fill="#f08228"/>
<ellipse cx="38.9" cy="214.0" rx="1.6" ry="1.3" transform="rotate(6 38.9 214.0)" fill="#f08228"/>
<ellipse cx="145.4" cy="245.2" rx="2.5" ry="1.3" transform="rotate(2 145.4 245.2)" fill="#f08228"/>
<ellipse cx="41.8" cy="216.0" rx="1.6" ry="0.9" transform="rotate(22 41.8 216.0)" fill="#f08228"/>
<ellipse cx="108.8" cy="237.7" rx="2.2" ry="1.6" transform="rotate(23 108.8 237.7)" fill="#f08228"/>
<ellipse cx="79.9" cy="231.5" rx="1.9" ry="1.1" transform="rotate(46 79.9 231.5)" fill="#f08228"/>
<ellipse cx="219.8" cy="275.2" rx="1.4" ry="0.7" transform="rotate(18 219.8 275.2)" fill="#f08228"/>
<ellipse cx="117.4" cy="243.8" rx="1.2" ry="0.6" transform="rotate(3 117.4 243.8)" fill="#f08228"/>
<ellipse cx="57.2" cy="216.6" rx="1.3" ry="0.7" transform="rotate(17 57.2 216.6)" fill="#f08228"/>
<ellipse cx="122.9" cy="247.0" rx="1.8" ry="1.0" transform="rotate(20 122.9 247.0)" fill="#f08228"/>
<ellipse cx="141.5" cy="242.9" rx="1.3" ry="0.9" transform="rotate(46 141.5 242.9)" fill="#f08228"/>
<ellipse cx="220.1" cy="260.9" rx="1.1" ry="0.7" transform="rotate(13 220.1 260.9)" fill="#f08228"/>
<ellipse cx="177.1" cy="261.3" rx="2.5" ry="1.4" transform="rotate(20 177.1 261.3)" fill="#f08228"/>
<ellipse cx="182.3" cy="249.8" rx="1.8" ry="1.0" transform="rotate(45 182.3 249.8)" fill="#f08228"/>
<ellipse cx="121.2" cy="240.4" rx="2.0" ry="1.3" transform="rotate(11 121.2 240.4)" fill="#f08228"/>
<ellipse cx="130.4" cy="239.4" rx="1.0" ry="0.7" transform="rotate(12 130.4 239.4)" fill="#f08228"/>
<ellipse cx="197.5" cy="268.2" rx="2.4" ry="1.7" transform="rotate(7 197.5 268.2)" fill="#f08228"/>
<ellipse cx="35.1" cy="210.5" rx="2.2" ry="1.2" transform="rotate(21 35.1 210.5)" fill="#f08228"/>
<ellipse cx="133.9" cy="244.8" rx="1.9" ry="1.2" transform="rotate(16 133.9 244.8)" fill="#f08228"/>
<ellipse cx="111.2" cy="248.0" rx="2.3" ry="1.1" transform="rotate(40 111.2 248.0)" fill="#f08228"/>
<ellipse cx="223.8" cy="267.3" rx="2.1" ry="1.1" transform="rotate(2 223.8 267.3)" fill="#f08228"/>
<ellipse cx="132.8" cy="243.9" rx="1.3" ry="0.7" transform="rotate(6 132.8 243.9)" fill="#f08228"/>
<ellipse cx="130.1" cy="247.4" rx="1.4" ry="0.9" transform="rotate(29 130.1 247.4)" fill="#f08228"/>
<ellipse cx="56.7" cy="218.4" rx="1.8" ry="1.1" transform="rotate(2 56.7 218.4)" fill="#f08228"/>
<ellipse cx="66.0" cy="226.5" rx="1.1" ry="0.6" transform="rotate(42 66.0 226.5)" fill="#f08228"/>
<ellipse cx="214.5" cy="269.4" rx="1.7" ry="0.8" transform="rotate(41 214.5 269.4)" fill="#f08228"/>
<ellipse cx="70.3" cy="227.7" rx="1.4" ry="0.7" transform="rotate(-1 70.3 227.7)" fill="#f08228"/>
<ellipse cx="133.0" cy="246.6" rx="1.3" ry="0.8" transform="rotate(35 133.0 246.6)" fill="#f08228"/>
<ellipse cx="103.5" cy="243.5" rx="1.3" ry="0.7" transform="rotate(0 103.5 243.5)" fill="#f08228"/>
<ellipse cx="88.1" cy="236.4" rx="2.9" ry="1.6" transform="rotate(35 88.1 236.4)" fill="#f08228"/>
<ellipse cx="176.1" cy="259.0" rx="0.8" ry="0.5" transform="rotate(-1 176.1 259.0)" fill="#f08228"/>
<ellipse cx="92.1" cy="234.8" rx="1.0" ry="0.5" transform="rotate(12 92.1 234.8)" fill="#f08228"/>
<ellipse cx="195.7" cy="263.7" rx="1.6" ry="0.8" transform="rotate(0 195.7 263.7)" fill="#f08228"/>
<ellipse cx="214.4" cy="257.5" rx="2.3" ry="1.2" transform="rotate(38 214.4 257.5)" fill="#f08228"/>
<polygon points="94.0,233.0 110.0,234.5 111.0,236.5 95.0,236.0" fill="#f00082"/>
<polygon points="121.5,243.2 129.7,244.0 129.7,245.5 121.5,245.0" fill="#f00082"/>
<polygon points="135.0,248.7 146.0,250.0 146.0,251.6 135.0,250.5" fill="#f00082"/>
<polygon points="198.0,264.0 212.0,268.0 221.0,272.0 221.0,275.5 210.0,272.0 198.0,267.0" fill="#f00082"/>
<polygon points="165.0,254.0 178.0,257.0 178.0,259.0 165.0,256.0" fill="#f00082"/>
<ellipse cx="65.8" cy="246.3" rx="2.5" ry="1.1" transform="rotate(3 65.8 246.3)" fill="#a2e632"/>
<ellipse cx="83.7" cy="260.6" rx="1.7" ry="0.8" transform="rotate(24 83.7 260.6)" fill="#a2e632"/>
<ellipse cx="73.4" cy="233.5" rx="1.1" ry="0.6" transform="rotate(14 73.4 233.5)" fill="#a2e632"/>
<ellipse cx="58.2" cy="228.0" rx="1.7" ry="1.0" transform="rotate(30 58.2 228.0)" fill="#a2e632"/>
<ellipse cx="71.5" cy="243.0" rx="2.0" ry="1.5" transform="rotate(14 71.5 243.0)" fill="#a2e632"/>
<ellipse cx="47.2" cy="248.8" rx="1.5" ry="0.9" transform="rotate(37 47.2 248.8)" fill="#a2e632"/>
<ellipse cx="49.0" cy="253.8" rx="2.0" ry="1.2" transform="rotate(20 49.0 253.8)" fill="#a2e632"/>
<ellipse cx="45.4" cy="235.5" rx="1.2" ry="0.8" transform="rotate(7 45.4 235.5)" fill="#a2e632"/>
<ellipse cx="50.8" cy="255.5" rx="1.5" ry="0.9" transform="rotate(2 50.8 255.5)" fill="#a2e632"/>
<ellipse cx="61.6" cy="229.6" rx="1.4" ry="0.7" transform="rotate(-2 61.6 229.6)" fill="#a2e632"/>
<ellipse cx="101.7" cy="248.8" rx="1.1" ry="0.6" transform="rotate(21 101.7 248.8)" fill="#a2e632"/>
<ellipse cx="97.8" cy="252.7" rx="2.0" ry="1.0" transform="rotate(43 97.8 252.7)" fill="#a2e632"/>
<ellipse cx="193.8" cy="304.3" rx="1.2" ry="0.6" transform="rotate(36 193.8 304.3)" fill="#10d810"/>
<ellipse cx="100.2" cy="266.1" rx="1.1" ry="0.6" transform="rotate(38 100.2 266.1)" fill="#10d810"/>
<ellipse cx="139.1" cy="274.0" rx="2.2" ry="1.3" transform="rotate(32 139.1 274.0)" fill="#10d810"/>
<ellipse cx="124.9" cy="260.9" rx="1.0" ry="0.5" transform="rotate(11 124.9 260.9)" fill="#10d810"/>
<ellipse cx="192.8" cy="297.1" rx="1.6" ry="1.1" transform="rotate(18 192.8 297.1)" fill="#10d810"/>
<ellipse cx="94.4" cy="254.7" rx="2.0" ry="0.8" transform="rotate(38 94.4 254.7)" fill="#10d810"/>
<ellipse cx="86.0" cy="255.1" rx="1.3" ry="0.7" transform="rotate(14 86.0 255.1)" fill="#10d810"/>
<ellipse cx="91.4" cy="256.9" rx="2.4" ry="1.4" transform="rotate(42 91.4 256.9)" fill="#10d810"/>
<ellipse cx="160.6" cy="272.0" rx="1.4" ry="0.7" transform="rotate(25 160.6 272.0)" fill="#10d810"/>
<ellipse cx="33.5" cy="229.2" rx="1.3" ry="1.0" transform="rotate(19 33.5 229.2)" fill="#10d810"/>
<ellipse cx="100.9" cy="269.1" rx="1.4" ry="0.7" transform="rotate(23 100.9 269.1)" fill="#10d810"/>
<ellipse cx="50.4" cy="228.4" rx="1.6" ry="1.3" transform="rotate(24 50.4 228.4)" fill="#10d810"/>
<ellipse cx="123.9" cy="266.4" rx="0.9" ry="0.6" transform="rotate(25 123.9 266.4)" fill="#10d810"/>
<ellipse cx="135.9" cy="282.7" rx="2.2" ry="1.1" transform="rotate(2 135.9 282.7)" fill="#10d810"/>
<ellipse cx="74.4" cy="247.9" rx="0.7" ry="0.4" transform="rotate(26 74.4 247.9)" fill="#10d810"/>
<ellipse cx="207.8" cy="298.6" rx="0.9" ry="0.6" transform="rotate(34 207.8 298.6)" fill="#10d810"/>
<ellipse cx="161.4" cy="294.0" rx="1.0" ry="0.6" transform="rotate(15 161.4 294.0)" fill="#10d810"/>
<ellipse cx="65.9" cy="255.5" rx="1.5" ry="0.9" transform="rotate(26 65.9 255.5)" fill="#10d810"/>
<ellipse cx="64.3" cy="266.4" rx="1.1" ry="0.6" transform="rotate(31 64.3 266.4)" fill="#10d810"/>
<ellipse cx="163.1" cy="292.3" rx="1.9" ry="1.0" transform="rotate(-2 163.1 292.3)" fill="#10d810"/>
<ellipse cx="42.9" cy="243.5" rx="1.1" ry="0.5" transform="rotate(41 42.9 243.5)" fill="#10d810"/>
<ellipse cx="61.3" cy="246.7" rx="1.3" ry="0.8" transform="rotate(25 61.3 246.7)" fill="#10d810"/>
<ellipse cx="36.9" cy="224.8" rx="1.5" ry="1.0" transform="rotate(10 36.9 224.8)" fill="#10d810"/>
<ellipse cx="79.4" cy="267.9" rx="1.8" ry="0.7" transform="rotate(44 79.4 267.9)" fill="#10d810"/>
<ellipse cx="137.9" cy="288.5" rx="2.0" ry="1.2" transform="rotate(35 137.9 288.5)" fill="#10d810"/>
<ellipse cx="122.6" cy="303.7" rx="2.0" ry="1.4" transform="rotate(31 122.6 303.7)" fill="#a2e632"/>
<ellipse cx="35.2" cy="269.5" rx="1.3" ry="0.7" transform="rotate(46 35.2 269.5)" fill="#a2e632"/>
<ellipse cx="28.9" cy="303.6" rx="1.5" ry="0.8" transform="rotate(19 28.9 303.6)" fill="#a2e632"/>
<ellipse cx="37.5" cy="259.4" rx="1.6" ry="1.1" transform="rotate(46 37.5 259.4)" fill="#a2e632"/>
<ellipse cx="79.0" cy="303.4" rx="1.0" ry="0.5" transform="rotate(21 79.0 303.4)" fill="#a2e632"/>
<ellipse cx="47.6" cy="265.1" rx="1.8" ry="1.0" transform="rotate(7 47.6 265.1)" fill="#a2e632"/>
<ellipse cx="99.7" cy="303.1" rx="2.0" ry="1.2" transform="rotate(6 99.7 303.1)" fill="#a2e632"/>
<ellipse cx="124.3" cy="303.9" rx="1.1" ry="0.8" transform="rotate(3 124.3 303.9)" fill="#a2e632"/>
<ellipse cx="132.2" cy="288.8" rx="2.0" ry="1.4" transform="rotate(7 132.2 288.8)" fill="#a2e632"/>
<ellipse cx="34.8" cy="274.4" rx="0.8" ry="0.5" transform="rotate(28 34.8 274.4)" fill="#a2e632"/>
<ellipse cx="101.1" cy="294.2" rx="1.1" ry="0.6" transform="rotate(1 101.1 294.2)" fill="#a2e632"/>
<ellipse cx="94.0" cy="289.9" rx="1.9" ry="0.9" transform="rotate(13 94.0 289.9)" fill="#a2e632"/>
<ellipse cx="112.7" cy="296.7" rx="2.2" ry="1.4" transform="rotate(12 112.7 296.7)" fill="#a2e632"/>
<ellipse cx="90.3" cy="308.0" rx="1.0" ry="0.6" transform="rotate(-2 90.3 308.0)" fill="#a2e632"/>
<ellipse cx="31.3" cy="256.6" rx="0.9" ry="0.4" transform="rotate(22 31.3 256.6)" fill="#a2e632"/>
<ellipse cx="115.8" cy="306.8" rx="1.2" ry="0.5" transform="rotate(-1 115.8 306.8)" fill="#a2e632"/>
<ellipse cx="66.5" cy="305.6" rx="0.8" ry="0.6" transform="rotate(33 66.5 305.6)" fill="#a2e632"/>
<ellipse cx="75.8" cy="303.1" rx="0.8" ry="0.6" transform="rotate(25 75.8 303.1)" fill="#a2e632"/>
<ellipse cx="59.2" cy="275.7" rx="1.3" ry="0.7" transform="rotate(7 59.2 275.7)" fill="#a2e632"/>
<ellipse cx="63.5" cy="311.4" rx="0.9" ry="0.7" transform="rotate(25 63.5 311.4)" fill="#a2e632"/>
<ellipse cx="117.4" cy="300.5" rx="1.2" ry="0.8" transform="rotate(13 117.4 300.5)" fill="#a2e632"/>
<ellipse cx="47.2" cy="291.6" rx="1.8" ry="1.1" transform="rotate(19 47.2 291.6)" fill="#a2e632"/>
<ellipse cx="53.0" cy="304.4" rx="1.6" ry="0.7" transform="rotate(35 53.0 304.4)" fill="#a2e632"/>
<ellipse cx="130.8" cy="311.5" rx="1.0" ry="0.9" transform="rotate(-1 130.8 311.5)" fill="#a2e632"/>
<ellipse cx="29.1" cy="306.2" rx="0.8" ry="0.5" transform="rotate(33 29.1 306.2)" fill="#a2e632"/>
<ellipse cx="218.4" cy="298.2" rx="1.4" ry="0.7" transform="rotate(5 218.4 298.2)" fill="#a2e632"/>
<ellipse cx="202.4" cy="294.2" rx="2.2" ry="1.4" transform="rotate(24 202.4 294.2)" fill="#a2e632"/>
<ellipse cx="217.7" cy="297.5" rx="1.7" ry="1.2" transform="rotate(12 217.7 297.5)" fill="#a2e632"/>
<ellipse cx="177.7" cy="280.6" rx="2.2" ry="0.8" transform="rotate(4 177.7 280.6)" fill="#a2e632"/>
<ellipse cx="176.9" cy="273.2" rx="1.6" ry="0.9" transform="rotate(2 176.9 273.2)" fill="#a2e632"/>
<ellipse cx="199.0" cy="288.9" rx="1.2" ry="1.0" transform="rotate(45 199.0 288.9)" fill="#a2e632"/>
<ellipse cx="197.6" cy="288.6" rx="1.3" ry="1.0" transform="rotate(27 197.6 288.6)" fill="#a2e632"/>
<ellipse cx="188.8" cy="285.2" rx="1.7" ry="0.8" transform="rotate(4 188.8 285.2)" fill="#a2e632"/>
<ellipse cx="189.0" cy="287.8" rx="2.1" ry="1.6" transform="rotate(8 189.0 287.8)" fill="#a2e632"/>
<ellipse cx="213.9" cy="306.4" rx="2.5" ry="1.7" transform="rotate(0 213.9 306.4)" fill="#a2e632"/>
<ellipse cx="176.4" cy="278.3" rx="1.5" ry="1.0" transform="rotate(-2 176.4 278.3)" fill="#a2e632"/>
<ellipse cx="172.6" cy="273.3" rx="2.7" ry="1.7" transform="rotate(1 172.6 273.3)" fill="#a2e632"/>
<ellipse cx="211.0" cy="292.4" rx="1.7" ry="0.9" transform="rotate(0 211.0 292.4)" fill="#a2e632"/>
<ellipse cx="225.7" cy="297.2" rx="1.6" ry="0.8" transform="rotate(30 225.7 297.2)" fill="#a2e632"/>
<ellipse cx="189.1" cy="286.2" rx="2.1" ry="1.6" transform="rotate(34 189.1 286.2)" fill="#a2e632"/>
<ellipse cx="183.9" cy="284.5" rx="2.5" ry="1.7" transform="rotate(17 183.9 284.5)" fill="#a2e632"/>
<ellipse cx="182.1" cy="286.0" rx="2.1" ry="1.2" transform="rotate(38 182.1 286.0)" fill="#a2e632"/>
<ellipse cx="201.7" cy="289.1" rx="2.0" ry="1.3" transform="rotate(35 201.7 289.1)" fill="#a2e632"/>
<ellipse cx="154.3" cy="265.5" rx="1.9" ry="1.5" transform="rotate(25 154.3 265.5)" fill="#a2e632"/>
<ellipse cx="227.8" cy="302.5" rx="2.4" ry="1.5" transform="rotate(4 227.8 302.5)" fill="#a2e632"/>
<ellipse cx="168.5" cy="274.3" rx="1.9" ry="0.9" transform="rotate(9 168.5 274.3)" fill="#a2e632"/>
<ellipse cx="187.9" cy="282.3" rx="1.3" ry="0.7" transform="rotate(12 187.9 282.3)" fill="#a2e632"/>
<ellipse cx="190.0" cy="280.0" rx="2.0" ry="1.0" transform="rotate(21 190.0 280.0)" fill="#a2e632"/>
<ellipse cx="189.7" cy="281.8" rx="1.9" ry="1.3" transform="rotate(13 189.7 281.8)" fill="#a2e632"/>
<ellipse cx="211.8" cy="291.1" rx="1.8" ry="1.2" transform="rotate(43 211.8 291.1)" fill="#a2e632"/>
<ellipse cx="201.3" cy="295.3" rx="1.8" ry="0.8" transform="rotate(7 201.3 295.3)" fill="#a2e632"/>
<ellipse cx="154.3" cy="265.8" rx="2.4" ry="1.5" transform="rotate(44 154.3 265.8)" fill="#a2e632"/>
<ellipse cx="170.1" cy="272.8" rx="2.2" ry="1.0" transform="rotate(12 170.1 272.8)" fill="#a2e632"/>
<ellipse cx="221.7" cy="311.6" rx="2.5" ry="1.5" transform="rotate(23 221.7 311.6)" fill="#a2e632"/>
<ellipse cx="195.0" cy="288.5" rx="1.1" ry="0.8" transform="rotate(3 195.0 288.5)" fill="#a2e632"/>
<ellipse cx="173.3" cy="283.8" rx="1.3" ry="1.0" transform="rotate(34 173.3 283.8)" fill="#a2e632"/>
<ellipse cx="194.8" cy="284.4" rx="0.9" ry="0.7" transform="rotate(22 194.8 284.4)" fill="#a2e632"/>
<ellipse cx="174.9" cy="280.0" rx="1.9" ry="1.5" transform="rotate(5 174.9 280.0)" fill="#a2e632"/>
<ellipse cx="158.2" cy="265.8" rx="2.6" ry="1.5" transform="rotate(2 158.2 265.8)" fill="#a2e632"/>
<ellipse cx="187.6" cy="279.6" rx="1.2" ry="0.7" transform="rotate(17 187.6 279.6)" fill="#a2e632"/>
<ellipse cx="188.5" cy="275.8" rx="2.8" ry="1.4" transform="rotate(1 188.5 275.8)" fill="#a2e632"/>
<ellipse cx="174.2" cy="268.1" rx="1.3" ry="1.0" transform="rotate(7 174.2 268.1)" fill="#a2e632"/>
<ellipse cx="227.8" cy="301.2" rx="2.2" ry="1.3" transform="rotate(21 227.8 301.2)" fill="#a2e632"/>
<ellipse cx="207.6" cy="293.3" rx="1.6" ry="0.9" transform="rotate(28 207.6 293.3)" fill="#a2e632"/>
<ellipse cx="174.6" cy="269.2" rx="3.1" ry="1.4" transform="rotate(30 174.6 269.2)" fill="#a2e632"/>
<ellipse cx="211.3" cy="305.1" rx="2.8" ry="1.6" transform="rotate(34 211.3 305.1)" fill="#f08228"/>
<ellipse cx="193.7" cy="282.0" rx="2.7" ry="1.2" transform="rotate(36 193.7 282.0)" fill="#f08228"/>
<ellipse cx="221.7" cy="298.2" rx="1.2" ry="0.7" transform="rotate(38 221.7 298.2)" fill="#f08228"/>
<ellipse cx="186.5" cy="303.8" rx="2.0" ry="1.3" transform="rotate(32 186.5 303.8)" fill="#f08228"/>
<ellipse cx="208.7" cy="293.4" rx="2.4" ry="1.2" transform="rotate(38 208.7 293.4)" fill="#f08228"/>
<ellipse cx="198.3" cy="300.5" rx="1.7" ry="1.0" transform="rotate(26 198.3 300.5)" fill="#f08228"/>
<ellipse cx="150.3" cy="284.5" rx="1.1" ry="0.5" transform="rotate(2 150.3 284.5)" fill="#f08228"/>
<ellipse cx="194.8" cy="283.0" rx="1.4" ry="1.0" transform="rotate(7 194.8 283.0)" fill="#f08228"/>
<ellipse cx="156.5" cy="274.5" rx="2.3" ry="1.4" transform="rotate(19 156.5 274.5)" fill="#f08228"/>
<ellipse cx="158.9" cy="293.4" rx="0.8" ry="0.5" transform="rotate(38 158.9 293.4)" fill="#f08228"/>
<ellipse cx="166.6" cy="302.9" rx="1.8" ry="1.1" transform="rotate(41 166.6 302.9)" fill="#f08228"/>
<ellipse cx="163.0" cy="305.5" rx="1.5" ry="0.9" transform="rotate(37 163.0 305.5)" fill="#f08228"/>
<ellipse cx="157.5" cy="287.4" rx="2.2" ry="1.6" transform="rotate(22 157.5 287.4)" fill="#f08228"/>
<ellipse cx="216.1" cy="292.7" rx="1.0" ry="0.7" transform="rotate(28 216.1 292.7)" fill="#f08228"/>
<ellipse cx="176.8" cy="292.4" rx="2.0" ry="1.2" transform="rotate(15 176.8 292.4)" fill="#f08228"/>
<ellipse cx="176.9" cy="306.9" rx="1.1" ry="0.6" transform="rotate(38 176.9 306.9)" fill="#f08228"/>
<ellipse cx="183.1" cy="296.5" rx="2.7" ry="1.1" transform="rotate(33 183.1 296.5)" fill="#f08228"/>
<ellipse cx="220.5" cy="303.0" rx="1.2" ry="0.5" transform="rotate(26 220.5 303.0)" fill="#f08228"/>
<polygon points="46.0,175.0 48.0,179.0 52.4,184.0 59.2,186.1 67.4,188.1 68.8,193.6 77.0,196.3 83.8,200.4 89.2,204.5 100.0,206.6 113.7,210.9 129.7,214.1 145.8,221.1 157.0,224.1 168.6,226.6 187.0,231.1 203.0,232.6 211.8,233.1 218.6,232.6 228.0,232.1 228.0,170.4" fill="#a2e632"/>
<polygon points="46.0,173.7 48.0,177.7 52.4,182.7 59.2,184.8 67.4,186.8 68.8,192.3 77.0,195.0 83.8,199.1 89.2,203.2 100.0,205.3 113.7,209.6 129.7,212.8 145.8,219.8 157.0,222.8 168.6,225.3 187.0,229.8 203.0,231.3 211.8,231.8 218.6,231.3 228.0,230.8 228.0,170.4" fill="#10d810"/>
<polygon points="46.0,172.4 48.0,176.4 52.4,181.4 59.2,183.5 67.4,185.5 68.8,191.0 77.0,193.7 83.8,197.8 89.2,201.9 100.0,204.0 113.7,208.3 129.7,211.5 145.8,218.5 157.0,221.5 168.6,224.0 187.0,228.5 203.0,230.0 211.8,230.5 218.6,230.0 228.0,229.5 228.0,170.4" fill="#00c8c8"/>
<polygon points="46.0,171.4 48.0,175.4 52.4,180.4 59.2,182.5 67.4,184.5 68.8,190.0 77.0,192.7 83.8,196.8 89.2,200.9 100.0,203.0 113.7,207.3 129.7,210.5 145.8,217.5 157.0,220.5 168.6,223.0 187.0,227.5 203.0,229.0 211.8,229.5 218.6,229.0 228.0,228.5 228.0,170.4" fill="#05a0fa"/>
<polygon points="46.0,170.4 48.0,174.4 52.4,179.4 59.2,181.5 67.4,183.5 68.8,189.0 77.0,191.7 83.8,195.8 89.2,199.9 100.0,202.0 113.7,206.3 129.7,209.5 145.8,216.5 157.0,219.5 168.6,222.0 187.0,226.5 203.0,228.0 211.8,228.5 218.6,228.0 228.0,227.5 228.0,170.4" fill="#1e3cff"/>
<polygon points="107.9,184.9 117.4,184.2 126.0,188.6 133.3,189.2 138.1,192.2 147.8,193.4 151.5,188.6 150.3,186.1 155.1,187.3 164.8,186.1 162.4,181.3 157.6,176.4 162.4,176.4 168.5,181.3 174.0,186.5 176.0,188.0 186.0,192.0 198.3,197.5 210.4,199.5 228.0,201.5 228.0,215.0 210.0,212.0 198.0,208.0 186.0,208.0 174.0,209.0 168.5,210.4 162.4,209.2 156.3,206.8 150.3,203.1 144.2,200.7 138.1,197.1 126.0,194.6 110.6,191.7 107.9,189.0" fill="#05a0fa"/>
<polygon points="192.2,170.4 228.0,170.4 228.0,195.5 210.4,192.0 198.3,188.0 195.8,181.3" fill="#05a0fa"/>
<polygon points="154.5,195.8 162.4,196.5 162.0,201.9 155.0,201.0" fill="#1e3cff"/>
<polygon points="210.4,184.9 228.0,184.9 228.0,191.0 210.4,189.0" fill="#1e3cff"/>
<polygon points="200.0,175.5 206.0,176.0 205.0,179.0 200.0,178.5" fill="#1e3cff"/>
<polygon points="180.0,203.0 190.0,204.0 188.0,207.0 181.0,206.5" fill="#1e3cff"/>
<polygon points="135.7,175.2 143.0,175.2 143.0,180.1 135.7,180.1" fill="#05a0fa"/>
<polygon points="143.0,181.9 146.6,181.9 146.6,184.9 143.0,184.9" fill="#05a0fa"/>
<polygon points="168.5,175.2 176.0,175.2 176.0,178.9 168.5,178.9" fill="#05a0fa"/>
<polygon points="72.9,175.4 86.5,175.4 86.5,179.4 72.9,179.4" fill="#05a0fa"/>
<polygon points="66.0,188.5 76.0,189.0 86.5,193.5 80.0,194.0 70.0,191.5" fill="#05a0fa"/>
<polygon points="108.5,178.0 118.8,178.0 117.4,181.5 109.3,180.8" fill="#05a0fa"/>
<polygon points="92.0,188.0 99.0,189.0 98.0,192.0 92.0,191.0" fill="#05a0fa"/>
<polygon points="176.0,212.0 190.0,211.0 204.0,214.0 214.0,220.0 224.0,221.0 224.0,228.0 214.0,229.0 205.0,228.0 192.0,224.0 182.0,219.0" fill="#05a0fa"/>
<ellipse cx="162.8" cy="186.7" rx="2.0" ry="1.1" transform="rotate(14 162.8 186.7)" fill="#05a0fa"/>
<ellipse cx="224.0" cy="208.1" rx="1.9" ry="1.4" transform="rotate(33 224.0 208.1)" fill="#05a0fa"/>
<ellipse cx="175.2" cy="210.5" rx="1.4" ry="0.9" transform="rotate(8 175.2 210.5)" fill="#05a0fa"/>
<ellipse cx="190.4" cy="190.6" rx="1.3" ry="0.6" transform="rotate(25 190.4 190.6)" fill="#05a0fa"/>
<ellipse cx="180.4" cy="180.3" rx="1.2" ry="0.7" transform="rotate(2 180.4 180.3)" fill="#05a0fa"/>
<ellipse cx="222.0" cy="226.3" rx="1.4" ry="0.6" transform="rotate(15 222.0 226.3)" fill="#05a0fa"/>
<ellipse cx="104.4" cy="195.9" rx="1.0" ry="0.6" transform="rotate(13 104.4 195.9)" fill="#05a0fa"/>
<ellipse cx="221.4" cy="185.9" rx="1.2" ry="0.8" transform="rotate(45 221.4 185.9)" fill="#05a0fa"/>
<ellipse cx="162.0" cy="215.6" rx="1.5" ry="0.8" transform="rotate(7 162.0 215.6)" fill="#05a0fa"/>
<ellipse cx="147.7" cy="209.4" rx="1.9" ry="1.3" transform="rotate(13 147.7 209.4)" fill="#05a0fa"/>
<ellipse cx="142.3" cy="187.2" rx="2.0" ry="0.9" transform="rotate(12 142.3 187.2)" fill="#05a0fa"/>
<ellipse cx="196.4" cy="203.3" rx="1.3" ry="0.7" transform="rotate(46 196.4 203.3)" fill="#05a0fa"/>
<ellipse cx="183.2" cy="209.8" rx="1.2" ry="0.8" transform="rotate(40 183.2 209.8)" fill="#05a0fa"/>
<ellipse cx="161.4" cy="210.6" rx="2.4" ry="1.3" transform="rotate(19 161.4 210.6)" fill="#05a0fa"/>
<ellipse cx="108.2" cy="193.2" rx="1.8" ry="1.4" transform="rotate(17 108.2 193.2)" fill="#05a0fa"/>
<ellipse cx="142.8" cy="200.7" rx="1.6" ry="1.0" transform="rotate(45 142.8 200.7)" fill="#05a0fa"/>
<ellipse cx="167.5" cy="204.0" rx="1.3" ry="1.0" transform="rotate(28 167.5 204.0)" fill="#05a0fa"/>
<ellipse cx="189.5" cy="219.1" rx="1.3" ry="0.6" transform="rotate(33 189.5 219.1)" fill="#05a0fa"/>
<ellipse cx="224.4" cy="193.0" rx="2.8" ry="1.8" transform="rotate(41 224.4 193.0)" fill="#1e3cff"/>
<ellipse cx="217.4" cy="185.8" rx="1.9" ry="1.2" transform="rotate(3 217.4 185.8)" fill="#1e3cff"/>
<ellipse cx="202.0" cy="175.7" rx="1.8" ry="1.2" transform="rotate(4 202.0 175.7)" fill="#1e3cff"/>
<ellipse cx="220.9" cy="179.4" rx="3.0" ry="1.4" transform="rotate(3 220.9 179.4)" fill="#1e3cff"/>
<ellipse cx="197.2" cy="177.3" rx="1.4" ry="0.9" transform="rotate(22 197.2 177.3)" fill="#1e3cff"/>
<ellipse cx="196.2" cy="176.0" rx="2.3" ry="1.4" transform="rotate(17 196.2 176.0)" fill="#1e3cff"/>
<ellipse cx="221.2" cy="183.9" rx="1.1" ry="0.8" transform="rotate(38 221.2 183.9)" fill="#1e3cff"/>
<ellipse cx="207.4" cy="172.0" rx="2.5" ry="1.4" transform="rotate(36 207.4 172.0)" fill="#1e3cff"/>
<ellipse cx="210.5" cy="185.2" rx="2.1" ry="1.1" transform="rotate(43 210.5 185.2)" fill="#1e3cff"/>
<ellipse cx="226.6" cy="178.7" rx="3.1" ry="1.5" transform="rotate(3 226.6 178.7)" fill="#1e3cff"/>
<ellipse cx="208.5" cy="187.5" rx="2.4" ry="1.3" transform="rotate(22 208.5 187.5)" fill="#1e3cff"/>
<ellipse cx="206.6" cy="177.5" rx="1.7" ry="0.9" transform="rotate(36 206.6 177.5)" fill="#1e3cff"/>
<ellipse cx="199.3" cy="188.1" rx="1.7" ry="1.0" transform="rotate(13 199.3 188.1)" fill="#1e3cff"/>
<ellipse cx="227.0" cy="189.2" rx="3.3" ry="1.9" transform="rotate(45 227.0 189.2)" fill="#1e3cff"/>
<ellipse cx="194.6" cy="200.7" rx="1.4" ry="1.0" transform="rotate(17 194.6 200.7)" fill="#1e3cff"/>
<ellipse cx="217.4" cy="207.1" rx="1.7" ry="1.0" transform="rotate(41 217.4 207.1)" fill="#1e3cff"/>
<ellipse cx="175.6" cy="196.0" rx="1.3" ry="1.1" transform="rotate(12 175.6 196.0)" fill="#1e3cff"/>
<ellipse cx="205.4" cy="208.9" rx="1.3" ry="0.9" transform="rotate(0 205.4 208.9)" fill="#1e3cff"/>
<ellipse cx="207.6" cy="206.7" rx="2.4" ry="1.2" transform="rotate(2 207.6 206.7)" fill="#1e3cff"/>
<ellipse cx="116.4" cy="188.9" rx="2.3" ry="1.4" transform="rotate(44 116.4 188.9)" fill="#1e3cff"/>
<ellipse cx="162.7" cy="199.0" rx="2.2" ry="1.1" transform="rotate(35 162.7 199.0)" fill="#1e3cff"/>
<ellipse cx="164.4" cy="191.8" rx="2.1" ry="1.4" transform="rotate(35 164.4 191.8)" fill="#1e3cff"/>
<ellipse cx="191.0" cy="194.6" rx="1.6" ry="0.7" transform="rotate(45 191.0 194.6)" fill="#1e3cff"/>
<ellipse cx="135.4" cy="191.5" rx="2.7" ry="1.6" transform="rotate(41 135.4 191.5)" fill="#1e3cff"/>
<ellipse cx="225.1" cy="207.4" rx="1.2" ry="0.9" transform="rotate(2 225.1 207.4)" fill="#1e3cff"/>
<ellipse cx="219.6" cy="201.1" rx="2.3" ry="1.3" transform="rotate(13 219.6 201.1)" fill="#1e3cff"/>
<ellipse cx="224.8" cy="203.8" rx="1.3" ry="0.9" transform="rotate(40 224.8 203.8)" fill="#1e3cff"/>
<ellipse cx="214.7" cy="211.8" rx="1.3" ry="0.8" transform="rotate(42 214.7 211.8)" fill="#1e3cff"/>
<ellipse cx="168.2" cy="200.3" rx="1.8" ry="1.1" transform="rotate(39 168.2 200.3)" fill="#1e3cff"/>
<ellipse cx="173.4" cy="187.6" rx="2.1" ry="0.9" transform="rotate(0 173.4 187.6)" fill="#1e3cff"/>
<polygon points="57.0,176.0 66.0,176.5 70.0,180.0 68.0,183.4 60.0,182.0 56.0,179.0" fill="#840cf0"/>
<polygon points="64.0,182.0 72.0,184.0 80.0,188.0 90.0,192.0 100.0,196.0 96.0,199.0 86.0,196.0 76.0,192.5 68.0,188.5" fill="#840cf0"/>
<polygon points="104.0,199.5 118.0,201.0 130.0,204.0 128.0,207.0 115.0,206.0 105.0,203.5" fill="#840cf0"/>
<polygon points="98.0,198.0 112.0,199.0 126.0,199.0 138.0,202.0 140.0,206.0 135.0,208.0 124.0,208.5 110.0,207.5 102.0,204.0" fill="#840cf0"/>
<polygon points="150.0,208.0 160.0,210.0 158.0,214.0 150.0,213.0" fill="#840cf0"/>
<polygon points="168.0,219.0 176.0,221.0 174.0,224.0 168.0,222.5" fill="#840cf0"/>
<polygon points="189.0,222.0 195.0,223.0 194.0,226.0 188.0,225.0" fill="#840cf0"/>
<polygon points="178.0,227.0 184.0,228.0 183.0,231.0 178.0,229.5" fill="#840cf0"/>
<polygon points="100.0,196.5 113.7,200.8 129.7,204.0 145.8,211.0 157.0,214.0 168.6,216.5 187.0,221.0 203.0,222.5 211.8,223.0 211.8,228.2 203.0,227.7 187.0,226.2 168.6,221.7 157.0,219.2 145.8,216.2 129.7,209.2 113.7,206.0 100.0,201.7" fill="#840cf0"/>
<ellipse cx="192.8" cy="222.2" rx="1.7" ry="0.8" transform="rotate(3 192.8 222.2)" fill="#1e3cff"/>
<ellipse cx="181.6" cy="223.4" rx="2.0" ry="1.1" transform="rotate(2 181.6 223.4)" fill="#1e3cff"/>
<ellipse cx="108.4" cy="200.1" rx="2.0" ry="1.1" transform="rotate(26 108.4 200.1)" fill="#1e3cff"/>
<ellipse cx="145.5" cy="215.9" rx="2.1" ry="1.2" transform="rotate(42 145.5 215.9)" fill="#1e3cff"/>
<ellipse cx="202.1" cy="223.0" rx="2.1" ry="1.3" transform="rotate(-1 202.1 223.0)" fill="#1e3cff"/>
<ellipse cx="128.2" cy="206.0" rx="1.2" ry="0.8" transform="rotate(13 128.2 206.0)" fill="#1e3cff"/>
<ellipse cx="199.1" cy="225.7" rx="1.7" ry="1.0" transform="rotate(35 199.1 225.7)" fill="#1e3cff"/>
<ellipse cx="141.0" cy="213.5" rx="2.3" ry="1.4" transform="rotate(5 141.0 213.5)" fill="#1e3cff"/>
<ellipse cx="110.0" cy="203.2" rx="1.1" ry="0.7" transform="rotate(42 110.0 203.2)" fill="#1e3cff"/>
<ellipse cx="183.4" cy="220.4" rx="1.1" ry="0.8" transform="rotate(9 183.4 220.4)" fill="#1e3cff"/>
<ellipse cx="123.4" cy="204.7" rx="2.4" ry="1.4" transform="rotate(29 123.4 204.7)" fill="#1e3cff"/>
<ellipse cx="166.8" cy="218.5" rx="1.1" ry="0.7" transform="rotate(0 166.8 218.5)" fill="#1e3cff"/>
<ellipse cx="133.9" cy="209.5" rx="2.1" ry="0.9" transform="rotate(19 133.9 209.5)" fill="#1e3cff"/>
<ellipse cx="195.6" cy="222.0" rx="1.5" ry="1.0" transform="rotate(10 195.6 222.0)" fill="#1e3cff"/>
<ellipse cx="128.1" cy="208.1" rx="1.5" ry="1.1" transform="rotate(2 128.1 208.1)" fill="#1e3cff"/>
<ellipse cx="131.9" cy="208.6" rx="1.7" ry="1.0" transform="rotate(8 131.9 208.6)" fill="#1e3cff"/>
<ellipse cx="174.2" cy="223.0" rx="1.3" ry="0.7" transform="rotate(-1 174.2 223.0)" fill="#1e3cff"/>
<ellipse cx="110.5" cy="200.2" rx="1.5" ry="0.9" transform="rotate(5 110.5 200.2)" fill="#1e3cff"/>
<ellipse cx="140.4" cy="211.4" rx="1.8" ry="1.2" transform="rotate(24 140.4 211.4)" fill="#1e3cff"/>
<ellipse cx="197.3" cy="227.0" rx="2.6" ry="1.3" transform="rotate(2 197.3 227.0)" fill="#1e3cff"/>
<ellipse cx="167.6" cy="217.1" rx="1.5" ry="0.8" transform="rotate(37 167.6 217.1)" fill="#1e3cff"/>
<ellipse cx="136.0" cy="209.4" rx="1.2" ry="0.8" transform="rotate(30 136.0 209.4)" fill="#1e3cff"/>
<ellipse cx="162.8" cy="219.1" rx="1.0" ry="0.8" transform="rotate(9 162.8 219.1)" fill="#1e3cff"/>
<ellipse cx="158.4" cy="214.9" rx="1.9" ry="1.1" transform="rotate(0 158.4 214.9)" fill="#1e3cff"/>
<ellipse cx="132.4" cy="205.7" rx="2.2" ry="1.3" transform="rotate(40 132.4 205.7)" fill="#1e3cff"/>
<ellipse cx="49.4" cy="175.5" rx="2.2" ry="1.0" fill="#10d810"/>
<ellipse cx="52.2" cy="179.9" rx="2.2" ry="1.0" fill="#05a0fa"/>
<ellipse cx="60.8" cy="182.9" rx="2.2" ry="1.0" fill="#a2e632"/>
<ellipse cx="67.1" cy="184.2" rx="2.2" ry="1.0" fill="#05a0fa"/>
<ellipse cx="69.1" cy="188.9" rx="2.2" ry="1.0" fill="#05a0fa"/>
<ellipse cx="77.6" cy="192.0" rx="2.2" ry="1.0" fill="#05a0fa"/>
<ellipse cx="84.5" cy="195.4" rx="2.2" ry="1.0" fill="#10d810"/>
<ellipse cx="89.7" cy="200.3" rx="2.2" ry="1.0" fill="#05a0fa"/>
<ellipse cx="101.2" cy="201.5" rx="2.2" ry="1.0" fill="#00c8c8"/>
<ellipse cx="113.1" cy="207.3" rx="2.2" ry="1.0" fill="#a2e632"/>
<ellipse cx="129.6" cy="209.6" rx="2.2" ry="1.0" fill="#a2e632"/>
<ellipse cx="147.7" cy="216.2" rx="2.2" ry="1.0" fill="#a2e632"/>
<ellipse cx="157.2" cy="219.8" rx="2.2" ry="1.0" fill="#a2e632"/>
<ellipse cx="170.2" cy="222.0" rx="2.2" ry="1.0" fill="#05a0fa"/>
<ellipse cx="186.5" cy="227.0" rx="2.2" ry="1.0" fill="#05a0fa"/>
<ellipse cx="201.5" cy="227.9" rx="2.2" ry="1.0" fill="#a2e632"/>
<ellipse cx="213.3" cy="228.2" rx="2.2" ry="1.0" fill="#a2e632"/>
<ellipse cx="220.1" cy="228.7" rx="2.2" ry="1.0" fill="#10d810"/>
<ellipse cx="227.9" cy="227.9" rx="2.2" ry="1.0" fill="#05a0fa"/>
</g></g>
<g clip-path="url(#clipC)"><g fill="none" stroke="#222" stroke-width="0.6" stroke-linejoin="round" opacity="0.9" filter="url(#jag)"><path d="M101.0 174.4 L100.0 178.6 L98.9 182.9 L102.0 186.1 L101.0 190.3 L105.2 194.6 L108.4 197.8"/><path d="M107.4 190.3 L112.7 189.3 L119.0 192.4 L125.4 197.8 L134.5 202.0 L140.9 201.6 L147.2 204.1 L155.7 207.3 L157.8 211.6 L168.5 214.7 L177.0 216.9 L183.3 220.0 L187.6 222.2 L183.3 223.2 L177.0 227.5 L170.6 230.7 L166.3 232.8 L163.2 237.4 L160.0 242.6 L157.8 246.9 L154.7 251.1 L152.5 255.4 L150.4 259.6 L157.8 261.8 L168.5 263.9 L179.1 266.0 L189.7 270.2 L198.2 276.6 L206.7 278.7 L215.2 281.9 L226.0 284.0"/><path d="M150.4 259.6 L143.0 258.6 L134.5 257.5 L126.0 258.6 L121.2 254.3 L112.7 251.1 L106.3 250.1 L102.0 246.9 L104.2 244.8 L97.8 240.5 L93.6 237.9 L87.2 234.9 L80.8 236.0 L74.5 237.0 L70.2 239.2 L66.0 236.0 L62.8 231.7 L60.7 225.4 L58.5 221.1 L59.6 216.9 L63.8 213.7 L62.8 211.6 L61.7 208.4 L63.8 206.2 L64.9 202.0 L68.1 198.8 L74.5 195.6 L85.0 194.6 L95.7 195.6 L102.0 196.4 L108.4 197.8"/><path d="M59.6 216.9 L53.2 216.9 L49.0 215.8 L40.5 214.7 L36.2 212.6 L34.1 208.4 L32.0 206.4"/><path d="M59.6 216.9 L53.2 221.1 L46.9 225.4 L42.6 229.6 L40.5 236.0 L38.4 244.4 L39.4 246.9 L40.5 257.5 L42.6 261.8 L44.7 263.9 L51.1 270.2 L53.2 276.6 L52.0 281.8 L47.5 285.4 L44.5 286.9 L36.2 287.7 L32.0 288.0"/><path d="M44.5 286.9 L46.0 291.4 L48.7 296.7 L54.5 301.0 L57.0 304.4 L55.0 308.4"/></g></g>
<rect x="32.0" y="174.4" width="192.0" height="133.4" fill="none" stroke="#333" stroke-width="0.8"/>
<g font-family="Liberation Serif, serif" font-weight="bold" fill="#000" stroke="#000" stroke-width="0.12">
<text x="27.4" y="24.7" text-anchor="end" font-size="5.3">32N</text><text x="27.4" y="37.7" text-anchor="end" font-size="5.3">31.5N</text><text x="27.4" y="50.8" text-anchor="end" font-size="5.3">31N</text><text x="27.4" y="63.8" text-anchor="end" font-size="5.3">30.5N</text><text x="27.4" y="76.9" text-anchor="end" font-size="5.3">30N</text><text x="27.4" y="89.9" text-anchor="end" font-size="5.3">29.5N</text><text x="27.4" y="102.9" text-anchor="end" font-size="5.3">29N</text><text x="27.4" y="116.0" text-anchor="end" font-size="5.3">28.5N</text><text x="27.4" y="129.0" text-anchor="end" font-size="5.3">28N</text><text x="27.4" y="142.1" text-anchor="end" font-size="5.3">27.5N</text><text x="27.4" y="155.1" text-anchor="end" font-size="5.3">27N</text><text x="34.5" y="160.8" text-anchor="middle" font-size="5.3">77E</text><text x="51.3" y="160.8" text-anchor="middle" font-size="5.3">77.5E</text><text x="70.0" y="160.8" text-anchor="middle" font-size="5.3">78E</text><text x="88.7" y="160.8" text-anchor="middle" font-size="5.3">78.5E</text><text x="107.4" y="160.8" text-anchor="middle" font-size="5.3">79E</text><text x="126.1" y="160.8" text-anchor="middle" font-size="5.3">79.5E</text><text x="144.8" y="160.8" text-anchor="middle" font-size="5.3">80E</text><text x="163.5" y="160.8" text-anchor="middle" font-size="5.3">80.5E</text><text x="182.2" y="160.8" text-anchor="middle" font-size="5.3">81E</text><text x="200.9" y="160.8" text-anchor="middle" font-size="5.3">81.5E</text><text x="219.7" y="160.8" text-anchor="middle" font-size="5.3">82E</text>
<text x="306.0" y="25.5" text-anchor="end" font-size="5.3">32N</text><text x="306.0" y="38.5" text-anchor="end" font-size="5.3">31.5N</text><text x="306.0" y="51.6" text-anchor="end" font-size="5.3">31N</text><text x="306.0" y="64.6" text-anchor="end" font-size="5.3">30.5N</text><text x="306.0" y="77.7" text-anchor="end" font-size="5.3">30N</text><text x="306.0" y="90.7" text-anchor="end" font-size="5.3">29.5N</text><text x="306.0" y="103.7" text-anchor="end" font-size="5.3">29N</text><text x="306.0" y="116.8" text-anchor="end" font-size="5.3">28.5N</text><text x="306.0" y="129.8" text-anchor="end" font-size="5.3">28N</text><text x="306.0" y="142.9" text-anchor="end" font-size="5.3">27.5N</text><text x="306.0" y="155.9" text-anchor="end" font-size="5.3">27N</text><text x="313.2" y="161.6" text-anchor="middle" font-size="5.3">77E</text><text x="329.9" y="161.6" text-anchor="middle" font-size="5.3">77.5E</text><text x="348.6" y="161.6" text-anchor="middle" font-size="5.3">78E</text><text x="367.3" y="161.6" text-anchor="middle" font-size="5.3">78.5E</text><text x="386.0" y="161.6" text-anchor="middle" font-size="5.3">79E</text><text x="404.7" y="161.6" text-anchor="middle" font-size="5.3">79.5E</text><text x="423.4" y="161.6" text-anchor="middle" font-size="5.3">80E</text><text x="442.1" y="161.6" text-anchor="middle" font-size="5.3">80.5E</text><text x="460.8" y="161.6" text-anchor="middle" font-size="5.3">81E</text><text x="479.5" y="161.6" text-anchor="middle" font-size="5.3">81.5E</text><text x="498.3" y="161.6" text-anchor="middle" font-size="5.3">82E</text>
<text x="306.4" y="179.5" text-anchor="end" font-size="5.3">32N</text><text x="306.4" y="192.5" text-anchor="end" font-size="5.3">31.5N</text><text x="306.4" y="205.6" text-anchor="end" font-size="5.3">31N</text><text x="306.4" y="218.6" text-anchor="end" font-size="5.3">30.5N</text><text x="306.4" y="231.7" text-anchor="end" font-size="5.3">30N</text><text x="306.4" y="244.7" text-anchor="end" font-size="5.3">29.5N</text><text x="306.4" y="257.7" text-anchor="end" font-size="5.3">29N</text><text x="306.4" y="270.8" text-anchor="end" font-size="5.3">28.5N</text><text x="306.4" y="283.8" text-anchor="end" font-size="5.3">28N</text><text x="306.4" y="296.9" text-anchor="end" font-size="5.3">27.5N</text><text x="306.4" y="309.9" text-anchor="end" font-size="5.3">27N</text><text x="313.6" y="314.6" text-anchor="middle" font-size="5.3">77E</text><text x="330.3" y="314.6" text-anchor="middle" font-size="5.3">77.5E</text><text x="349.0" y="314.6" text-anchor="middle" font-size="5.3">78E</text><text x="367.7" y="314.6" text-anchor="middle" font-size="5.3">78.5E</text><text x="386.4" y="314.6" text-anchor="middle" font-size="5.3">79E</text><text x="405.1" y="314.6" text-anchor="middle" font-size="5.3">79.5E</text><text x="423.8" y="314.6" text-anchor="middle" font-size="5.3">80E</text><text x="442.5" y="314.6" text-anchor="middle" font-size="5.3">80.5E</text><text x="461.2" y="314.6" text-anchor="middle" font-size="5.3">81E</text><text x="479.9" y="314.6" text-anchor="middle" font-size="5.3">81.5E</text><text x="498.7" y="314.6" text-anchor="middle" font-size="5.3">82E</text>
<text x="27.4" y="179.8" text-anchor="end" font-size="5.3">32N</text><text x="27.4" y="192.8" text-anchor="end" font-size="5.3">31.5N</text><text x="27.4" y="205.9" text-anchor="end" font-size="5.3">31N</text><text x="27.4" y="218.9" text-anchor="end" font-size="5.3">30.5N</text><text x="27.4" y="232.0" text-anchor="end" font-size="5.3">30N</text><text x="27.4" y="245.0" text-anchor="end" font-size="5.3">29.5N</text><text x="27.4" y="258.0" text-anchor="end" font-size="5.3">29N</text><text x="27.4" y="271.1" text-anchor="end" font-size="5.3">28.5N</text><text x="27.4" y="284.1" text-anchor="end" font-size="5.3">28N</text><text x="27.4" y="297.2" text-anchor="end" font-size="5.3">27.5N</text><text x="27.4" y="310.2" text-anchor="end" font-size="5.3">27N</text><text x="34.5" y="314.9" text-anchor="middle" font-size="5.3">77E</text><text x="51.3" y="314.9" text-anchor="middle" font-size="5.3">77.5E</text><text x="70.0" y="314.9" text-anchor="middle" font-size="5.3">78E</text><text x="88.7" y="314.9" text-anchor="middle" font-size="5.3">78.5E</text><text x="107.4" y="314.9" text-anchor="middle" font-size="5.3">79E</text><text x="126.1" y="314.9" text-anchor="middle" font-size="5.3">79.5E</text><text x="144.8" y="314.9" text-anchor="middle" font-size="5.3">80E</text><text x="163.5" y="314.9" text-anchor="middle" font-size="5.3">80.5E</text><text x="182.2" y="314.9" text-anchor="middle" font-size="5.3">81E</text><text x="200.9" y="314.9" text-anchor="middle" font-size="5.3">81.5E</text><text x="219.7" y="314.9" text-anchor="middle" font-size="5.3">82E</text>
<polygon points="251.4,29.8 254.5,38.8 248.3,38.8" fill="#f00082"/><rect x="248.30" y="38.80" width="6.20" height="9.94" fill="#fa3c3c"/><rect x="248.30" y="48.44" width="6.20" height="9.94" fill="#f08228"/><rect x="248.30" y="58.08" width="6.20" height="9.94" fill="#e8b02d"/><rect x="248.30" y="67.72" width="6.20" height="9.94" fill="#e6dc32"/><rect x="248.30" y="77.36" width="6.20" height="9.94" fill="#a2e632"/><rect x="248.30" y="87.00" width="6.20" height="9.94" fill="#00d28f"/><rect x="248.30" y="96.64" width="6.20" height="9.94" fill="#00c8c8"/><rect x="248.30" y="106.28" width="6.20" height="9.94" fill="#05a0fa"/><rect x="248.30" y="115.92" width="6.20" height="9.94" fill="#1e3cff"/><rect x="248.30" y="125.56" width="6.20" height="9.94" fill="#840cf0"/><polygon points="248.3,135.2 254.5,135.2 251.4,144.2" fill="#a000c8"/><text x="260.0" y="39.8" font-size="5.0">0.022</text><text x="260.0" y="49.4" font-size="5.0">0.02</text><text x="260.0" y="59.1" font-size="5.0">0.018</text><text x="260.0" y="68.7" font-size="5.0">0.016</text><text x="260.0" y="78.4" font-size="5.0">0.014</text><text x="260.0" y="88.0" font-size="5.0">0.012</text><text x="260.0" y="97.6" font-size="5.0">0.01</text><text x="260.0" y="107.3" font-size="5.0">0.008</text><text x="260.0" y="116.9" font-size="5.0">0.006</text><text x="260.0" y="126.6" font-size="5.0">0.004</text><text x="260.0" y="136.2" font-size="5.0">0.002</text>
<polygon points="533.2,46.1 536.6,55.7 529.7,55.7" fill="#f00082"/><rect x="529.70" y="55.70" width="6.90" height="9.84" fill="#fa3c3c"/><rect x="529.70" y="65.24" width="6.90" height="9.84" fill="#e8b02d"/><rect x="529.70" y="74.78" width="6.90" height="9.84" fill="#e6dc32"/><rect x="529.70" y="84.32" width="6.90" height="9.84" fill="#10d810"/><rect x="529.70" y="93.86" width="6.90" height="9.84" fill="#00c8c8"/><rect x="529.70" y="103.40" width="6.90" height="9.84" fill="#05a0fa"/><rect x="529.70" y="112.94" width="6.90" height="9.84" fill="#840cf0"/><polygon points="529.7,122.5 536.6,122.5 533.2,132.1" fill="#a000c8"/><text x="540.9" y="56.7" font-size="5.0">0.8</text><text x="540.9" y="66.2" font-size="5.0">0.7</text><text x="540.9" y="75.8" font-size="5.0">0.6</text><text x="540.9" y="85.3" font-size="5.0">0.5</text><text x="540.9" y="94.9" font-size="5.0">0.4</text><text x="540.9" y="104.4" font-size="5.0">0.3</text><text x="540.9" y="113.9" font-size="5.0">0.2</text><text x="540.9" y="123.5" font-size="5.0">0.1</text>
<polygon points="250.8,189.7 254.2,199.2 247.5,199.2" fill="#f00082"/><rect x="247.50" y="199.20" width="6.70" height="9.84" fill="#fa3c3c"/><rect x="247.50" y="208.74" width="6.70" height="9.84" fill="#f08228"/><rect x="247.50" y="218.28" width="6.70" height="9.84" fill="#e8b02d"/><rect x="247.50" y="227.82" width="6.70" height="9.84" fill="#a2e632"/><rect x="247.50" y="237.36" width="6.70" height="9.84" fill="#10d810"/><rect x="247.50" y="246.90" width="6.70" height="9.84" fill="#00d28f"/><rect x="247.50" y="256.44" width="6.70" height="9.84" fill="#05a0fa"/><rect x="247.50" y="265.98" width="6.70" height="9.84" fill="#1e3cff"/><rect x="247.50" y="275.52" width="6.70" height="9.84" fill="#840cf0"/><polygon points="247.5,285.1 254.2,285.1 250.8,294.6" fill="#a000c8"/><text x="259.7" y="200.2" font-size="5.0">0.8</text><text x="259.7" y="209.7" font-size="5.0">0.7</text><text x="259.7" y="219.3" font-size="5.0">0.6</text><text x="259.7" y="228.8" font-size="5.0">0.5</text><text x="259.7" y="238.4" font-size="5.0">0.4</text><text x="259.7" y="247.9" font-size="5.0">0.3</text><text x="259.7" y="257.4" font-size="5.0">0.2</text><text x="259.7" y="267.0" font-size="5.0">0.1</text><text x="259.7" y="276.5" font-size="5.0">0</text><text x="259.7" y="286.1" font-size="5.0">- 0.1</text>
<polygon points="533.2,193.1 536.5,202.7 530.0,202.7" fill="#f00082"/><rect x="530.00" y="202.70" width="6.50" height="9.95" fill="#fa3c3c"/><rect x="530.00" y="212.35" width="6.50" height="9.95" fill="#f08228"/><rect x="530.00" y="222.00" width="6.50" height="9.95" fill="#e6dc32"/><rect x="530.00" y="231.65" width="6.50" height="9.95" fill="#a2e632"/><rect x="530.00" y="241.30" width="6.50" height="9.95" fill="#00d28f"/><rect x="530.00" y="250.95" width="6.50" height="9.95" fill="#00c8c8"/><rect x="530.00" y="260.60" width="6.50" height="9.95" fill="#1e3cff"/><rect x="530.00" y="270.25" width="6.50" height="9.95" fill="#840cf0"/><polygon points="530.0,279.9 536.5,279.9 533.2,289.5" fill="#a000c8"/><text x="539.6" y="203.7" font-size="5.0">270</text><text x="539.6" y="213.3" font-size="5.0">240</text><text x="539.6" y="223.0" font-size="5.0">210</text><text x="539.6" y="232.6" font-size="5.0">180</text><text x="539.6" y="242.3" font-size="5.0">150</text><text x="539.6" y="251.9" font-size="5.0">120</text><text x="539.6" y="261.6" font-size="5.0">90</text><text x="539.6" y="271.2" font-size="5.0">60</text><text x="539.6" y="280.9" font-size="5.0">30</text>
</g>
<g font-family="Liberation Serif, serif" font-weight="bold" fill="#000" stroke="#000" stroke-width="0.05">
<text x="36.9" y="32.6" font-size="10.2">(a)</text>
<text x="315.5" y="32.6" font-size="10.2">(b)</text>
<text x="36.9" y="187.0" font-size="10.2">(c)</text>
<text x="315.9" y="187.0" font-size="10.2">(d)</text>
<text x="282.8" y="10.5" text-anchor="middle" font-size="10.64">Post-Monsoon</text>
<text x="126.8" y="324.6" text-anchor="middle" font-size="8.35">Longitude (deg.)</text>
<text x="406.8" y="324.6" text-anchor="middle" font-size="8.35">Longitude (deg.)</text>
<text transform="translate(8.9,81.05) rotate(-90)" text-anchor="middle" font-size="8.25">Latitude (deg.)</text>
<text transform="translate(8.9,235.2) rotate(-90)" text-anchor="middle" font-size="8.25">Latitude (deg.)</text>
<text transform="translate(234.3,90.6) rotate(-90)" text-anchor="middle" font-size="8.3">Flash Rate Density</text>
<text transform="translate(243.6,91.7) rotate(-90)" text-anchor="middle" font-size="8.4">(flashes km<tspan dy="-2.6" font-size="5">-2</tspan><tspan dy="2.6">day</tspan><tspan dy="-2.6" font-size="5">-1</tspan><tspan dy="2.6">)</tspan></text>
<text transform="translate(516.9,85.9) rotate(-90)" text-anchor="middle" font-size="8">AOD</text>
<text transform="translate(242.9,239.3) rotate(-90)" text-anchor="middle" font-size="8.6">NDVI</text>
<text transform="translate(515.2,243.3) rotate(-90)" text-anchor="middle" font-size="8.2">CAPE</text>
<text transform="translate(525.2,240.9) rotate(-90)" text-anchor="middle" font-size="8">(J kg<tspan dy="-2.6" font-size="5.2">-1</tspan><tspan dy="2.6">)</tspan></text>
</g>
</svg>
</body></html>
